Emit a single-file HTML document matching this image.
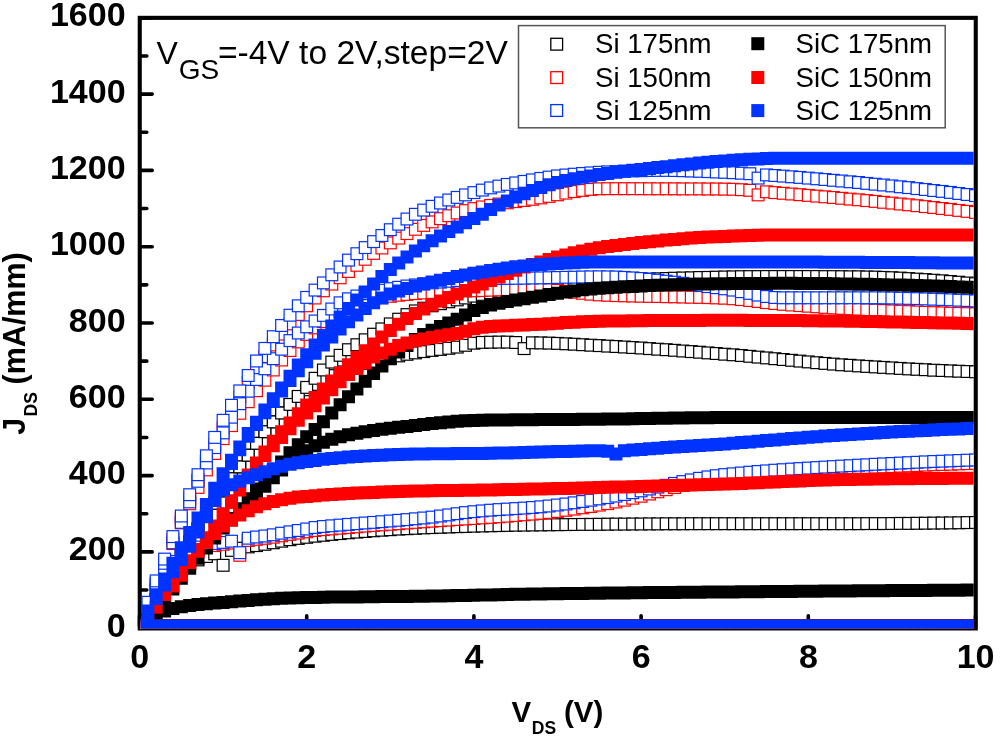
<!DOCTYPE html>
<html><head><meta charset="utf-8"><style>
html,body{margin:0;padding:0;background:#fff;}
svg{display:block;}
text{font-family:"Liberation Sans",Arial,sans-serif;}
</style></head><body>
<svg width="1000" height="738" viewBox="0 0 1000 738">
<defs><clipPath id="pc"><rect x="140.6" y="19.9" width="833.1" height="608.7"/></clipPath></defs>
<rect width="1000" height="738" fill="#fff"/>
<path d="M141.8 628.20h10.4M141.8 590.05h5M141.8 551.90h10.4M141.8 513.75h5M141.8 475.60h10.4M141.8 437.45h5M141.8 399.30h10.4M141.8 361.15h5M141.8 323.00h10.4M141.8 284.85h5M141.8 246.70h10.4M141.8 208.55h5M141.8 170.40h10.4M141.8 132.25h5M141.8 94.10h10.4M141.8 55.95h5M141.8 17.80h10.4M139.50 626.4v-10.6M223.10 626.4v-5M306.70 626.4v-10.6M390.30 626.4v-5M473.90 626.4v-10.6M557.50 626.4v-5M641.10 626.4v-10.6M724.70 626.4v-5M808.30 626.4v-10.6M891.90 626.4v-5M975.50 626.4v-10.6" stroke="#000" stroke-width="3.6" stroke-linecap="round" fill="none"/>
<rect x="139.75" y="17.85" width="836" height="610.6" fill="none" stroke="#000" stroke-width="4.1"/>
<g clip-path="url(#pc)">
<g fill="#fff" stroke="#000000" stroke-width="1.2"><rect x="133.6" y="620.0" width="11.8" height="11.8"/><rect x="142.0" y="620.0" width="11.8" height="11.8"/><rect x="150.3" y="620.0" width="11.8" height="11.8"/><rect x="158.7" y="620.0" width="11.8" height="11.8"/><rect x="167.0" y="620.0" width="11.8" height="11.8"/><rect x="175.4" y="620.0" width="11.8" height="11.8"/><rect x="183.8" y="620.0" width="11.8" height="11.8"/><rect x="192.1" y="620.0" width="11.8" height="11.8"/><rect x="200.5" y="620.0" width="11.8" height="11.8"/><rect x="208.8" y="620.0" width="11.8" height="11.8"/><rect x="217.2" y="620.0" width="11.8" height="11.8"/><rect x="225.6" y="620.0" width="11.8" height="11.8"/><rect x="233.9" y="620.0" width="11.8" height="11.8"/><rect x="242.3" y="620.0" width="11.8" height="11.8"/><rect x="250.6" y="620.0" width="11.8" height="11.8"/><rect x="259.0" y="620.0" width="11.8" height="11.8"/><rect x="267.4" y="620.0" width="11.8" height="11.8"/><rect x="275.7" y="620.0" width="11.8" height="11.8"/><rect x="284.1" y="620.0" width="11.8" height="11.8"/><rect x="292.4" y="620.0" width="11.8" height="11.8"/><rect x="300.8" y="620.0" width="11.8" height="11.8"/><rect x="309.2" y="620.0" width="11.8" height="11.8"/><rect x="317.5" y="620.0" width="11.8" height="11.8"/><rect x="325.9" y="620.0" width="11.8" height="11.8"/><rect x="334.2" y="620.0" width="11.8" height="11.8"/><rect x="342.6" y="620.0" width="11.8" height="11.8"/><rect x="351.0" y="620.0" width="11.8" height="11.8"/><rect x="359.3" y="620.0" width="11.8" height="11.8"/><rect x="367.7" y="620.0" width="11.8" height="11.8"/><rect x="376.0" y="620.0" width="11.8" height="11.8"/><rect x="384.4" y="620.0" width="11.8" height="11.8"/><rect x="392.8" y="620.0" width="11.8" height="11.8"/><rect x="401.1" y="620.0" width="11.8" height="11.8"/><rect x="409.5" y="620.0" width="11.8" height="11.8"/><rect x="417.8" y="620.0" width="11.8" height="11.8"/><rect x="426.2" y="620.0" width="11.8" height="11.8"/><rect x="434.6" y="620.0" width="11.8" height="11.8"/><rect x="442.9" y="620.0" width="11.8" height="11.8"/><rect x="451.3" y="620.0" width="11.8" height="11.8"/><rect x="459.6" y="620.0" width="11.8" height="11.8"/><rect x="468.0" y="620.0" width="11.8" height="11.8"/><rect x="476.4" y="620.0" width="11.8" height="11.8"/><rect x="484.7" y="620.0" width="11.8" height="11.8"/><rect x="493.1" y="620.0" width="11.8" height="11.8"/><rect x="501.4" y="620.0" width="11.8" height="11.8"/><rect x="509.8" y="620.0" width="11.8" height="11.8"/><rect x="518.2" y="620.0" width="11.8" height="11.8"/><rect x="526.5" y="620.0" width="11.8" height="11.8"/><rect x="534.9" y="620.0" width="11.8" height="11.8"/><rect x="543.2" y="620.0" width="11.8" height="11.8"/><rect x="551.6" y="620.0" width="11.8" height="11.8"/><rect x="560.0" y="620.0" width="11.8" height="11.8"/><rect x="568.3" y="620.0" width="11.8" height="11.8"/><rect x="576.7" y="620.0" width="11.8" height="11.8"/><rect x="585.0" y="620.0" width="11.8" height="11.8"/><rect x="593.4" y="620.0" width="11.8" height="11.8"/><rect x="601.8" y="620.0" width="11.8" height="11.8"/><rect x="610.1" y="620.0" width="11.8" height="11.8"/><rect x="618.5" y="620.0" width="11.8" height="11.8"/><rect x="626.8" y="620.0" width="11.8" height="11.8"/><rect x="635.2" y="620.0" width="11.8" height="11.8"/><rect x="643.6" y="620.0" width="11.8" height="11.8"/><rect x="651.9" y="620.0" width="11.8" height="11.8"/><rect x="660.3" y="620.0" width="11.8" height="11.8"/><rect x="668.6" y="620.0" width="11.8" height="11.8"/><rect x="677.0" y="620.0" width="11.8" height="11.8"/><rect x="685.4" y="620.0" width="11.8" height="11.8"/><rect x="693.7" y="620.0" width="11.8" height="11.8"/><rect x="702.1" y="620.0" width="11.8" height="11.8"/><rect x="710.4" y="620.0" width="11.8" height="11.8"/><rect x="718.8" y="620.0" width="11.8" height="11.8"/><rect x="727.2" y="620.0" width="11.8" height="11.8"/><rect x="735.5" y="620.0" width="11.8" height="11.8"/><rect x="743.9" y="620.0" width="11.8" height="11.8"/><rect x="752.2" y="620.0" width="11.8" height="11.8"/><rect x="760.6" y="620.0" width="11.8" height="11.8"/><rect x="769.0" y="620.0" width="11.8" height="11.8"/><rect x="777.3" y="620.0" width="11.8" height="11.8"/><rect x="785.7" y="620.0" width="11.8" height="11.8"/><rect x="794.0" y="620.0" width="11.8" height="11.8"/><rect x="802.4" y="620.0" width="11.8" height="11.8"/><rect x="810.8" y="620.0" width="11.8" height="11.8"/><rect x="819.1" y="620.0" width="11.8" height="11.8"/><rect x="827.5" y="620.0" width="11.8" height="11.8"/><rect x="835.8" y="620.0" width="11.8" height="11.8"/><rect x="844.2" y="620.0" width="11.8" height="11.8"/><rect x="852.6" y="620.0" width="11.8" height="11.8"/><rect x="860.9" y="620.0" width="11.8" height="11.8"/><rect x="869.3" y="620.0" width="11.8" height="11.8"/><rect x="877.6" y="620.0" width="11.8" height="11.8"/><rect x="886.0" y="620.0" width="11.8" height="11.8"/><rect x="894.4" y="620.0" width="11.8" height="11.8"/><rect x="902.7" y="620.0" width="11.8" height="11.8"/><rect x="911.1" y="620.0" width="11.8" height="11.8"/><rect x="919.4" y="620.0" width="11.8" height="11.8"/><rect x="927.8" y="620.0" width="11.8" height="11.8"/><rect x="936.2" y="620.0" width="11.8" height="11.8"/><rect x="944.5" y="620.0" width="11.8" height="11.8"/><rect x="952.9" y="620.0" width="11.8" height="11.8"/><rect x="961.2" y="620.0" width="11.8" height="11.8"/><rect x="969.6" y="620.0" width="11.8" height="11.8"/><rect x="133.6" y="622.3" width="11.8" height="11.8"/><rect x="142.0" y="607.2" width="11.8" height="11.8"/><rect x="150.3" y="593.7" width="11.8" height="11.8"/><rect x="158.7" y="581.1" width="11.8" height="11.8"/><rect x="167.0" y="570.8" width="11.8" height="11.8"/><rect x="175.4" y="563.7" width="11.8" height="11.8"/><rect x="183.8" y="558.2" width="11.8" height="11.8"/><rect x="192.1" y="554.0" width="11.8" height="11.8"/><rect x="200.5" y="550.6" width="11.8" height="11.8"/><rect x="208.8" y="547.9" width="11.8" height="11.8"/><rect x="217.2" y="559.4" width="11.8" height="11.8"/><rect x="225.6" y="544.5" width="11.8" height="11.8"/><rect x="233.9" y="542.3" width="11.8" height="11.8"/><rect x="242.3" y="541.0" width="11.8" height="11.8"/><rect x="250.6" y="539.7" width="11.8" height="11.8"/><rect x="259.0" y="538.4" width="11.8" height="11.8"/><rect x="267.4" y="536.9" width="11.8" height="11.8"/><rect x="275.7" y="535.3" width="11.8" height="11.8"/><rect x="284.1" y="533.8" width="11.8" height="11.8"/><rect x="292.4" y="532.5" width="11.8" height="11.8"/><rect x="300.8" y="531.4" width="11.8" height="11.8"/><rect x="309.2" y="530.3" width="11.8" height="11.8"/><rect x="317.5" y="529.4" width="11.8" height="11.8"/><rect x="325.9" y="528.5" width="11.8" height="11.8"/><rect x="334.2" y="527.7" width="11.8" height="11.8"/><rect x="342.6" y="526.9" width="11.8" height="11.8"/><rect x="351.0" y="526.2" width="11.8" height="11.8"/><rect x="359.3" y="525.6" width="11.8" height="11.8"/><rect x="367.7" y="524.9" width="11.8" height="11.8"/><rect x="376.0" y="524.3" width="11.8" height="11.8"/><rect x="384.4" y="523.8" width="11.8" height="11.8"/><rect x="392.8" y="523.2" width="11.8" height="11.8"/><rect x="401.1" y="522.8" width="11.8" height="11.8"/><rect x="409.5" y="522.4" width="11.8" height="11.8"/><rect x="417.8" y="522.0" width="11.8" height="11.8"/><rect x="426.2" y="521.7" width="11.8" height="11.8"/><rect x="434.6" y="521.4" width="11.8" height="11.8"/><rect x="442.9" y="521.1" width="11.8" height="11.8"/><rect x="451.3" y="520.8" width="11.8" height="11.8"/><rect x="459.6" y="520.6" width="11.8" height="11.8"/><rect x="468.0" y="520.3" width="11.8" height="11.8"/><rect x="476.4" y="520.1" width="11.8" height="11.8"/><rect x="484.7" y="519.9" width="11.8" height="11.8"/><rect x="493.1" y="519.7" width="11.8" height="11.8"/><rect x="501.4" y="519.5" width="11.8" height="11.8"/><rect x="509.8" y="519.3" width="11.8" height="11.8"/><rect x="518.2" y="519.2" width="11.8" height="11.8"/><rect x="526.5" y="519.1" width="11.8" height="11.8"/><rect x="534.9" y="519.0" width="11.8" height="11.8"/><rect x="543.2" y="518.9" width="11.8" height="11.8"/><rect x="551.6" y="518.8" width="11.8" height="11.8"/><rect x="560.0" y="518.7" width="11.8" height="11.8"/><rect x="568.3" y="518.6" width="11.8" height="11.8"/><rect x="576.7" y="518.5" width="11.8" height="11.8"/><rect x="585.0" y="518.5" width="11.8" height="11.8"/><rect x="593.4" y="518.4" width="11.8" height="11.8"/><rect x="601.8" y="518.3" width="11.8" height="11.8"/><rect x="610.1" y="518.2" width="11.8" height="11.8"/><rect x="618.5" y="518.2" width="11.8" height="11.8"/><rect x="626.8" y="518.1" width="11.8" height="11.8"/><rect x="635.2" y="518.1" width="11.8" height="11.8"/><rect x="643.6" y="518.0" width="11.8" height="11.8"/><rect x="651.9" y="518.0" width="11.8" height="11.8"/><rect x="660.3" y="517.9" width="11.8" height="11.8"/><rect x="668.6" y="517.9" width="11.8" height="11.8"/><rect x="677.0" y="517.9" width="11.8" height="11.8"/><rect x="685.4" y="517.8" width="11.8" height="11.8"/><rect x="693.7" y="517.8" width="11.8" height="11.8"/><rect x="702.1" y="517.8" width="11.8" height="11.8"/><rect x="710.4" y="517.8" width="11.8" height="11.8"/><rect x="718.8" y="517.8" width="11.8" height="11.8"/><rect x="727.2" y="517.8" width="11.8" height="11.8"/><rect x="735.5" y="517.8" width="11.8" height="11.8"/><rect x="743.9" y="517.8" width="11.8" height="11.8"/><rect x="752.2" y="517.8" width="11.8" height="11.8"/><rect x="760.6" y="517.8" width="11.8" height="11.8"/><rect x="769.0" y="517.8" width="11.8" height="11.8"/><rect x="777.3" y="517.8" width="11.8" height="11.8"/><rect x="785.7" y="517.8" width="11.8" height="11.8"/><rect x="794.0" y="517.8" width="11.8" height="11.8"/><rect x="802.4" y="517.8" width="11.8" height="11.8"/><rect x="810.8" y="517.8" width="11.8" height="11.8"/><rect x="819.1" y="517.8" width="11.8" height="11.8"/><rect x="827.5" y="517.8" width="11.8" height="11.8"/><rect x="835.8" y="517.8" width="11.8" height="11.8"/><rect x="844.2" y="517.8" width="11.8" height="11.8"/><rect x="852.6" y="517.8" width="11.8" height="11.8"/><rect x="860.9" y="517.7" width="11.8" height="11.8"/><rect x="869.3" y="517.7" width="11.8" height="11.8"/><rect x="877.6" y="517.7" width="11.8" height="11.8"/><rect x="886.0" y="517.6" width="11.8" height="11.8"/><rect x="894.4" y="517.5" width="11.8" height="11.8"/><rect x="902.7" y="517.5" width="11.8" height="11.8"/><rect x="911.1" y="517.4" width="11.8" height="11.8"/><rect x="919.4" y="517.3" width="11.8" height="11.8"/><rect x="927.8" y="517.2" width="11.8" height="11.8"/><rect x="936.2" y="517.1" width="11.8" height="11.8"/><rect x="944.5" y="517.0" width="11.8" height="11.8"/><rect x="952.9" y="516.9" width="11.8" height="11.8"/><rect x="961.2" y="516.7" width="11.8" height="11.8"/><rect x="969.6" y="516.6" width="11.8" height="11.8"/><rect x="133.6" y="622.3" width="11.8" height="11.8"/><rect x="142.0" y="608.1" width="11.8" height="11.8"/><rect x="150.3" y="593.7" width="11.8" height="11.8"/><rect x="158.7" y="579.0" width="11.8" height="11.8"/><rect x="167.0" y="564.1" width="11.8" height="11.8"/><rect x="175.4" y="549.8" width="11.8" height="11.8"/><rect x="183.8" y="536.2" width="11.8" height="11.8"/><rect x="192.1" y="523.0" width="11.8" height="11.8"/><rect x="200.5" y="510.1" width="11.8" height="11.8"/><rect x="208.8" y="497.4" width="11.8" height="11.8"/><rect x="217.2" y="485.0" width="11.8" height="11.8"/><rect x="225.6" y="472.8" width="11.8" height="11.8"/><rect x="233.9" y="461.0" width="11.8" height="11.8"/><rect x="242.3" y="449.3" width="11.8" height="11.8"/><rect x="250.6" y="437.4" width="11.8" height="11.8"/><rect x="259.0" y="425.8" width="11.8" height="11.8"/><rect x="267.4" y="415.9" width="11.8" height="11.8"/><rect x="275.7" y="406.9" width="11.8" height="11.8"/><rect x="284.1" y="398.6" width="11.8" height="11.8"/><rect x="292.4" y="390.6" width="11.8" height="11.8"/><rect x="300.8" y="383.9" width="11.8" height="11.8"/><rect x="309.2" y="378.5" width="11.8" height="11.8"/><rect x="317.5" y="373.8" width="11.8" height="11.8"/><rect x="325.9" y="369.7" width="11.8" height="11.8"/><rect x="334.2" y="366.0" width="11.8" height="11.8"/><rect x="342.6" y="362.7" width="11.8" height="11.8"/><rect x="351.0" y="359.8" width="11.8" height="11.8"/><rect x="359.3" y="357.4" width="11.8" height="11.8"/><rect x="367.7" y="355.3" width="11.8" height="11.8"/><rect x="376.0" y="353.4" width="11.8" height="11.8"/><rect x="384.4" y="351.6" width="11.8" height="11.8"/><rect x="392.8" y="350.0" width="11.8" height="11.8"/><rect x="401.1" y="348.4" width="11.8" height="11.8"/><rect x="409.5" y="347.0" width="11.8" height="11.8"/><rect x="417.8" y="345.7" width="11.8" height="11.8"/><rect x="426.2" y="344.5" width="11.8" height="11.8"/><rect x="434.6" y="343.5" width="11.8" height="11.8"/><rect x="442.9" y="342.4" width="11.8" height="11.8"/><rect x="451.3" y="341.2" width="11.8" height="11.8"/><rect x="459.6" y="339.4" width="11.8" height="11.8"/><rect x="468.0" y="337.3" width="11.8" height="11.8"/><rect x="476.4" y="336.5" width="11.8" height="11.8"/><rect x="484.7" y="336.3" width="11.8" height="11.8"/><rect x="493.1" y="336.2" width="11.8" height="11.8"/><rect x="501.4" y="336.2" width="11.8" height="11.8"/><rect x="509.8" y="336.6" width="11.8" height="11.8"/><rect x="518.2" y="342.7" width="11.8" height="11.8"/><rect x="526.5" y="336.9" width="11.8" height="11.8"/><rect x="534.9" y="337.0" width="11.8" height="11.8"/><rect x="543.2" y="337.2" width="11.8" height="11.8"/><rect x="551.6" y="337.5" width="11.8" height="11.8"/><rect x="560.0" y="337.9" width="11.8" height="11.8"/><rect x="568.3" y="338.3" width="11.8" height="11.8"/><rect x="576.7" y="338.8" width="11.8" height="11.8"/><rect x="585.0" y="339.3" width="11.8" height="11.8"/><rect x="593.4" y="339.7" width="11.8" height="11.8"/><rect x="601.8" y="340.2" width="11.8" height="11.8"/><rect x="610.1" y="340.6" width="11.8" height="11.8"/><rect x="618.5" y="341.1" width="11.8" height="11.8"/><rect x="626.8" y="341.6" width="11.8" height="11.8"/><rect x="635.2" y="342.1" width="11.8" height="11.8"/><rect x="643.6" y="342.7" width="11.8" height="11.8"/><rect x="651.9" y="343.3" width="11.8" height="11.8"/><rect x="660.3" y="343.8" width="11.8" height="11.8"/><rect x="668.6" y="344.4" width="11.8" height="11.8"/><rect x="677.0" y="345.1" width="11.8" height="11.8"/><rect x="685.4" y="345.7" width="11.8" height="11.8"/><rect x="693.7" y="346.3" width="11.8" height="11.8"/><rect x="702.1" y="347.0" width="11.8" height="11.8"/><rect x="710.4" y="347.6" width="11.8" height="11.8"/><rect x="718.8" y="348.3" width="11.8" height="11.8"/><rect x="727.2" y="348.9" width="11.8" height="11.8"/><rect x="735.5" y="349.6" width="11.8" height="11.8"/><rect x="743.9" y="350.4" width="11.8" height="11.8"/><rect x="752.2" y="351.2" width="11.8" height="11.8"/><rect x="760.6" y="352.0" width="11.8" height="11.8"/><rect x="769.0" y="352.8" width="11.8" height="11.8"/><rect x="777.3" y="353.6" width="11.8" height="11.8"/><rect x="785.7" y="354.4" width="11.8" height="11.8"/><rect x="794.0" y="355.2" width="11.8" height="11.8"/><rect x="802.4" y="356.0" width="11.8" height="11.8"/><rect x="810.8" y="356.8" width="11.8" height="11.8"/><rect x="819.1" y="357.5" width="11.8" height="11.8"/><rect x="827.5" y="358.2" width="11.8" height="11.8"/><rect x="835.8" y="358.9" width="11.8" height="11.8"/><rect x="844.2" y="359.4" width="11.8" height="11.8"/><rect x="852.6" y="360.0" width="11.8" height="11.8"/><rect x="860.9" y="360.5" width="11.8" height="11.8"/><rect x="869.3" y="361.0" width="11.8" height="11.8"/><rect x="877.6" y="361.5" width="11.8" height="11.8"/><rect x="886.0" y="362.0" width="11.8" height="11.8"/><rect x="894.4" y="362.5" width="11.8" height="11.8"/><rect x="902.7" y="363.0" width="11.8" height="11.8"/><rect x="911.1" y="363.4" width="11.8" height="11.8"/><rect x="919.4" y="363.8" width="11.8" height="11.8"/><rect x="927.8" y="364.3" width="11.8" height="11.8"/><rect x="936.2" y="364.6" width="11.8" height="11.8"/><rect x="944.5" y="365.0" width="11.8" height="11.8"/><rect x="952.9" y="365.3" width="11.8" height="11.8"/><rect x="961.2" y="365.6" width="11.8" height="11.8"/><rect x="969.6" y="365.9" width="11.8" height="11.8"/><rect x="133.6" y="622.3" width="11.8" height="11.8"/><rect x="142.0" y="608.1" width="11.8" height="11.8"/><rect x="150.3" y="593.7" width="11.8" height="11.8"/><rect x="158.7" y="579.0" width="11.8" height="11.8"/><rect x="167.0" y="564.1" width="11.8" height="11.8"/><rect x="175.4" y="549.8" width="11.8" height="11.8"/><rect x="183.8" y="536.2" width="11.8" height="11.8"/><rect x="192.1" y="523.0" width="11.8" height="11.8"/><rect x="200.5" y="510.1" width="11.8" height="11.8"/><rect x="208.8" y="497.4" width="11.8" height="11.8"/><rect x="217.2" y="485.0" width="11.8" height="11.8"/><rect x="225.6" y="472.8" width="11.8" height="11.8"/><rect x="233.9" y="461.0" width="11.8" height="11.8"/><rect x="242.3" y="449.3" width="11.8" height="11.8"/><rect x="250.6" y="437.4" width="11.8" height="11.8"/><rect x="259.0" y="425.8" width="11.8" height="11.8"/><rect x="267.4" y="416.0" width="11.8" height="11.8"/><rect x="275.7" y="407.1" width="11.8" height="11.8"/><rect x="284.1" y="398.5" width="11.8" height="11.8"/><rect x="292.4" y="390.5" width="11.8" height="11.8"/><rect x="300.8" y="381.5" width="11.8" height="11.8"/><rect x="309.2" y="372.4" width="11.8" height="11.8"/><rect x="317.5" y="364.1" width="11.8" height="11.8"/><rect x="325.9" y="356.2" width="11.8" height="11.8"/><rect x="334.2" y="349.4" width="11.8" height="11.8"/><rect x="342.6" y="343.8" width="11.8" height="11.8"/><rect x="351.0" y="338.8" width="11.8" height="11.8"/><rect x="359.3" y="333.9" width="11.8" height="11.8"/><rect x="367.7" y="328.3" width="11.8" height="11.8"/><rect x="376.0" y="323.0" width="11.8" height="11.8"/><rect x="384.4" y="318.0" width="11.8" height="11.8"/><rect x="392.8" y="313.3" width="11.8" height="11.8"/><rect x="401.1" y="308.7" width="11.8" height="11.8"/><rect x="409.5" y="305.0" width="11.8" height="11.8"/><rect x="417.8" y="302.3" width="11.8" height="11.8"/><rect x="426.2" y="299.9" width="11.8" height="11.8"/><rect x="434.6" y="297.8" width="11.8" height="11.8"/><rect x="442.9" y="295.9" width="11.8" height="11.8"/><rect x="451.3" y="294.0" width="11.8" height="11.8"/><rect x="459.6" y="292.1" width="11.8" height="11.8"/><rect x="468.0" y="290.3" width="11.8" height="11.8"/><rect x="476.4" y="288.5" width="11.8" height="11.8"/><rect x="484.7" y="286.9" width="11.8" height="11.8"/><rect x="493.1" y="285.6" width="11.8" height="11.8"/><rect x="501.4" y="284.4" width="11.8" height="11.8"/><rect x="509.8" y="283.2" width="11.8" height="11.8"/><rect x="518.2" y="282.1" width="11.8" height="11.8"/><rect x="526.5" y="281.0" width="11.8" height="11.8"/><rect x="534.9" y="280.0" width="11.8" height="11.8"/><rect x="543.2" y="279.1" width="11.8" height="11.8"/><rect x="551.6" y="278.2" width="11.8" height="11.8"/><rect x="560.0" y="277.4" width="11.8" height="11.8"/><rect x="568.3" y="276.7" width="11.8" height="11.8"/><rect x="576.7" y="276.1" width="11.8" height="11.8"/><rect x="585.0" y="275.5" width="11.8" height="11.8"/><rect x="593.4" y="275.1" width="11.8" height="11.8"/><rect x="601.8" y="274.8" width="11.8" height="11.8"/><rect x="610.1" y="274.4" width="11.8" height="11.8"/><rect x="618.5" y="274.1" width="11.8" height="11.8"/><rect x="626.8" y="273.8" width="11.8" height="11.8"/><rect x="635.2" y="273.5" width="11.8" height="11.8"/><rect x="643.6" y="273.2" width="11.8" height="11.8"/><rect x="651.9" y="272.9" width="11.8" height="11.8"/><rect x="660.3" y="272.6" width="11.8" height="11.8"/><rect x="668.6" y="272.3" width="11.8" height="11.8"/><rect x="677.0" y="272.1" width="11.8" height="11.8"/><rect x="685.4" y="271.9" width="11.8" height="11.8"/><rect x="693.7" y="271.6" width="11.8" height="11.8"/><rect x="702.1" y="271.5" width="11.8" height="11.8"/><rect x="710.4" y="271.3" width="11.8" height="11.8"/><rect x="718.8" y="271.1" width="11.8" height="11.8"/><rect x="727.2" y="271.0" width="11.8" height="11.8"/><rect x="735.5" y="270.8" width="11.8" height="11.8"/><rect x="743.9" y="270.7" width="11.8" height="11.8"/><rect x="752.2" y="270.7" width="11.8" height="11.8"/><rect x="760.6" y="270.6" width="11.8" height="11.8"/><rect x="769.0" y="270.6" width="11.8" height="11.8"/><rect x="777.3" y="270.6" width="11.8" height="11.8"/><rect x="785.7" y="270.6" width="11.8" height="11.8"/><rect x="794.0" y="270.6" width="11.8" height="11.8"/><rect x="802.4" y="270.6" width="11.8" height="11.8"/><rect x="810.8" y="270.6" width="11.8" height="11.8"/><rect x="819.1" y="270.7" width="11.8" height="11.8"/><rect x="827.5" y="270.7" width="11.8" height="11.8"/><rect x="835.8" y="270.8" width="11.8" height="11.8"/><rect x="844.2" y="270.9" width="11.8" height="11.8"/><rect x="852.6" y="270.9" width="11.8" height="11.8"/><rect x="860.9" y="271.1" width="11.8" height="11.8"/><rect x="869.3" y="271.2" width="11.8" height="11.8"/><rect x="877.6" y="271.5" width="11.8" height="11.8"/><rect x="886.0" y="271.8" width="11.8" height="11.8"/><rect x="894.4" y="272.2" width="11.8" height="11.8"/><rect x="902.7" y="272.7" width="11.8" height="11.8"/><rect x="911.1" y="273.2" width="11.8" height="11.8"/><rect x="919.4" y="273.7" width="11.8" height="11.8"/><rect x="927.8" y="274.3" width="11.8" height="11.8"/><rect x="936.2" y="274.9" width="11.8" height="11.8"/><rect x="944.5" y="275.6" width="11.8" height="11.8"/><rect x="952.9" y="276.3" width="11.8" height="11.8"/><rect x="961.2" y="277.1" width="11.8" height="11.8"/><rect x="969.6" y="277.8" width="11.8" height="11.8"/></g>
<g fill="#fff" stroke="#ff0000" stroke-width="1.2"><rect x="133.6" y="620.0" width="11.8" height="11.8"/><rect x="142.0" y="620.0" width="11.8" height="11.8"/><rect x="150.3" y="620.0" width="11.8" height="11.8"/><rect x="158.7" y="620.0" width="11.8" height="11.8"/><rect x="167.0" y="620.0" width="11.8" height="11.8"/><rect x="175.4" y="620.0" width="11.8" height="11.8"/><rect x="183.8" y="620.0" width="11.8" height="11.8"/><rect x="192.1" y="620.0" width="11.8" height="11.8"/><rect x="200.5" y="620.0" width="11.8" height="11.8"/><rect x="208.8" y="620.0" width="11.8" height="11.8"/><rect x="217.2" y="620.0" width="11.8" height="11.8"/><rect x="225.6" y="620.0" width="11.8" height="11.8"/><rect x="233.9" y="620.0" width="11.8" height="11.8"/><rect x="242.3" y="620.0" width="11.8" height="11.8"/><rect x="250.6" y="620.0" width="11.8" height="11.8"/><rect x="259.0" y="620.0" width="11.8" height="11.8"/><rect x="267.4" y="620.0" width="11.8" height="11.8"/><rect x="275.7" y="620.0" width="11.8" height="11.8"/><rect x="284.1" y="620.0" width="11.8" height="11.8"/><rect x="292.4" y="620.0" width="11.8" height="11.8"/><rect x="300.8" y="620.0" width="11.8" height="11.8"/><rect x="309.2" y="620.0" width="11.8" height="11.8"/><rect x="317.5" y="620.0" width="11.8" height="11.8"/><rect x="325.9" y="620.0" width="11.8" height="11.8"/><rect x="334.2" y="620.0" width="11.8" height="11.8"/><rect x="342.6" y="620.0" width="11.8" height="11.8"/><rect x="351.0" y="620.0" width="11.8" height="11.8"/><rect x="359.3" y="620.0" width="11.8" height="11.8"/><rect x="367.7" y="620.0" width="11.8" height="11.8"/><rect x="376.0" y="620.0" width="11.8" height="11.8"/><rect x="384.4" y="620.0" width="11.8" height="11.8"/><rect x="392.8" y="620.0" width="11.8" height="11.8"/><rect x="401.1" y="620.0" width="11.8" height="11.8"/><rect x="409.5" y="620.0" width="11.8" height="11.8"/><rect x="417.8" y="620.0" width="11.8" height="11.8"/><rect x="426.2" y="620.0" width="11.8" height="11.8"/><rect x="434.6" y="620.0" width="11.8" height="11.8"/><rect x="442.9" y="620.0" width="11.8" height="11.8"/><rect x="451.3" y="620.0" width="11.8" height="11.8"/><rect x="459.6" y="620.0" width="11.8" height="11.8"/><rect x="468.0" y="620.0" width="11.8" height="11.8"/><rect x="476.4" y="620.0" width="11.8" height="11.8"/><rect x="484.7" y="620.0" width="11.8" height="11.8"/><rect x="493.1" y="620.0" width="11.8" height="11.8"/><rect x="501.4" y="620.0" width="11.8" height="11.8"/><rect x="509.8" y="620.0" width="11.8" height="11.8"/><rect x="518.2" y="620.0" width="11.8" height="11.8"/><rect x="526.5" y="620.0" width="11.8" height="11.8"/><rect x="534.9" y="620.0" width="11.8" height="11.8"/><rect x="543.2" y="620.0" width="11.8" height="11.8"/><rect x="551.6" y="620.0" width="11.8" height="11.8"/><rect x="560.0" y="620.0" width="11.8" height="11.8"/><rect x="568.3" y="620.0" width="11.8" height="11.8"/><rect x="576.7" y="620.0" width="11.8" height="11.8"/><rect x="585.0" y="620.0" width="11.8" height="11.8"/><rect x="593.4" y="620.0" width="11.8" height="11.8"/><rect x="601.8" y="620.0" width="11.8" height="11.8"/><rect x="610.1" y="620.0" width="11.8" height="11.8"/><rect x="618.5" y="620.0" width="11.8" height="11.8"/><rect x="626.8" y="620.0" width="11.8" height="11.8"/><rect x="635.2" y="620.0" width="11.8" height="11.8"/><rect x="643.6" y="620.0" width="11.8" height="11.8"/><rect x="651.9" y="620.0" width="11.8" height="11.8"/><rect x="660.3" y="620.0" width="11.8" height="11.8"/><rect x="668.6" y="620.0" width="11.8" height="11.8"/><rect x="677.0" y="620.0" width="11.8" height="11.8"/><rect x="685.4" y="620.0" width="11.8" height="11.8"/><rect x="693.7" y="620.0" width="11.8" height="11.8"/><rect x="702.1" y="620.0" width="11.8" height="11.8"/><rect x="710.4" y="620.0" width="11.8" height="11.8"/><rect x="718.8" y="620.0" width="11.8" height="11.8"/><rect x="727.2" y="620.0" width="11.8" height="11.8"/><rect x="735.5" y="620.0" width="11.8" height="11.8"/><rect x="743.9" y="620.0" width="11.8" height="11.8"/><rect x="752.2" y="620.0" width="11.8" height="11.8"/><rect x="760.6" y="620.0" width="11.8" height="11.8"/><rect x="769.0" y="620.0" width="11.8" height="11.8"/><rect x="777.3" y="620.0" width="11.8" height="11.8"/><rect x="785.7" y="620.0" width="11.8" height="11.8"/><rect x="794.0" y="620.0" width="11.8" height="11.8"/><rect x="802.4" y="620.0" width="11.8" height="11.8"/><rect x="810.8" y="620.0" width="11.8" height="11.8"/><rect x="819.1" y="620.0" width="11.8" height="11.8"/><rect x="827.5" y="620.0" width="11.8" height="11.8"/><rect x="835.8" y="620.0" width="11.8" height="11.8"/><rect x="844.2" y="620.0" width="11.8" height="11.8"/><rect x="852.6" y="620.0" width="11.8" height="11.8"/><rect x="860.9" y="620.0" width="11.8" height="11.8"/><rect x="869.3" y="620.0" width="11.8" height="11.8"/><rect x="877.6" y="620.0" width="11.8" height="11.8"/><rect x="886.0" y="620.0" width="11.8" height="11.8"/><rect x="894.4" y="620.0" width="11.8" height="11.8"/><rect x="902.7" y="620.0" width="11.8" height="11.8"/><rect x="911.1" y="620.0" width="11.8" height="11.8"/><rect x="919.4" y="620.0" width="11.8" height="11.8"/><rect x="927.8" y="620.0" width="11.8" height="11.8"/><rect x="936.2" y="620.0" width="11.8" height="11.8"/><rect x="944.5" y="620.0" width="11.8" height="11.8"/><rect x="952.9" y="620.0" width="11.8" height="11.8"/><rect x="961.2" y="620.0" width="11.8" height="11.8"/><rect x="969.6" y="620.0" width="11.8" height="11.8"/><rect x="133.6" y="622.3" width="11.8" height="11.8"/><rect x="142.0" y="601.4" width="11.8" height="11.8"/><rect x="150.3" y="584.2" width="11.8" height="11.8"/><rect x="158.7" y="570.1" width="11.8" height="11.8"/><rect x="167.0" y="559.4" width="11.8" height="11.8"/><rect x="175.4" y="551.9" width="11.8" height="11.8"/><rect x="183.8" y="546.8" width="11.8" height="11.8"/><rect x="192.1" y="543.6" width="11.8" height="11.8"/><rect x="200.5" y="541.4" width="11.8" height="11.8"/><rect x="208.8" y="539.7" width="11.8" height="11.8"/><rect x="217.2" y="538.4" width="11.8" height="11.8"/><rect x="225.6" y="537.2" width="11.8" height="11.8"/><rect x="233.9" y="549.4" width="11.8" height="11.8"/><rect x="242.3" y="534.6" width="11.8" height="11.8"/><rect x="250.6" y="533.4" width="11.8" height="11.8"/><rect x="259.0" y="532.4" width="11.8" height="11.8"/><rect x="267.4" y="531.3" width="11.8" height="11.8"/><rect x="275.7" y="529.9" width="11.8" height="11.8"/><rect x="284.1" y="528.5" width="11.8" height="11.8"/><rect x="292.4" y="527.2" width="11.8" height="11.8"/><rect x="300.8" y="525.9" width="11.8" height="11.8"/><rect x="309.2" y="524.6" width="11.8" height="11.8"/><rect x="317.5" y="523.7" width="11.8" height="11.8"/><rect x="325.9" y="523.0" width="11.8" height="11.8"/><rect x="334.2" y="522.3" width="11.8" height="11.8"/><rect x="342.6" y="521.6" width="11.8" height="11.8"/><rect x="351.0" y="520.9" width="11.8" height="11.8"/><rect x="359.3" y="520.2" width="11.8" height="11.8"/><rect x="367.7" y="519.6" width="11.8" height="11.8"/><rect x="376.0" y="519.0" width="11.8" height="11.8"/><rect x="384.4" y="518.4" width="11.8" height="11.8"/><rect x="392.8" y="517.8" width="11.8" height="11.8"/><rect x="401.1" y="517.1" width="11.8" height="11.8"/><rect x="409.5" y="516.5" width="11.8" height="11.8"/><rect x="417.8" y="515.9" width="11.8" height="11.8"/><rect x="426.2" y="515.3" width="11.8" height="11.8"/><rect x="434.6" y="514.7" width="11.8" height="11.8"/><rect x="442.9" y="514.2" width="11.8" height="11.8"/><rect x="451.3" y="513.6" width="11.8" height="11.8"/><rect x="459.6" y="513.1" width="11.8" height="11.8"/><rect x="468.0" y="512.6" width="11.8" height="11.8"/><rect x="476.4" y="512.0" width="11.8" height="11.8"/><rect x="484.7" y="511.5" width="11.8" height="11.8"/><rect x="493.1" y="510.9" width="11.8" height="11.8"/><rect x="501.4" y="510.3" width="11.8" height="11.8"/><rect x="509.8" y="509.6" width="11.8" height="11.8"/><rect x="518.2" y="508.9" width="11.8" height="11.8"/><rect x="526.5" y="508.2" width="11.8" height="11.8"/><rect x="534.9" y="507.4" width="11.8" height="11.8"/><rect x="543.2" y="506.6" width="11.8" height="11.8"/><rect x="551.6" y="505.6" width="11.8" height="11.8"/><rect x="560.0" y="504.4" width="11.8" height="11.8"/><rect x="568.3" y="503.2" width="11.8" height="11.8"/><rect x="576.7" y="501.9" width="11.8" height="11.8"/><rect x="585.0" y="500.6" width="11.8" height="11.8"/><rect x="593.4" y="499.2" width="11.8" height="11.8"/><rect x="601.8" y="497.7" width="11.8" height="11.8"/><rect x="610.1" y="496.1" width="11.8" height="11.8"/><rect x="618.5" y="494.3" width="11.8" height="11.8"/><rect x="626.8" y="492.3" width="11.8" height="11.8"/><rect x="635.2" y="490.3" width="11.8" height="11.8"/><rect x="643.6" y="488.1" width="11.8" height="11.8"/><rect x="651.9" y="485.9" width="11.8" height="11.8"/><rect x="660.3" y="483.8" width="11.8" height="11.8"/><rect x="668.6" y="481.6" width="11.8" height="11.8"/><rect x="677.0" y="479.6" width="11.8" height="11.8"/><rect x="685.4" y="477.6" width="11.8" height="11.8"/><rect x="693.7" y="475.9" width="11.8" height="11.8"/><rect x="702.1" y="474.3" width="11.8" height="11.8"/><rect x="710.4" y="472.9" width="11.8" height="11.8"/><rect x="718.8" y="471.8" width="11.8" height="11.8"/><rect x="727.2" y="470.9" width="11.8" height="11.8"/><rect x="735.5" y="470.1" width="11.8" height="11.8"/><rect x="743.9" y="469.3" width="11.8" height="11.8"/><rect x="752.2" y="468.6" width="11.8" height="11.8"/><rect x="760.6" y="467.9" width="11.8" height="11.8"/><rect x="769.0" y="467.3" width="11.8" height="11.8"/><rect x="777.3" y="466.7" width="11.8" height="11.8"/><rect x="785.7" y="466.2" width="11.8" height="11.8"/><rect x="794.0" y="465.6" width="11.8" height="11.8"/><rect x="802.4" y="465.1" width="11.8" height="11.8"/><rect x="810.8" y="464.7" width="11.8" height="11.8"/><rect x="819.1" y="464.2" width="11.8" height="11.8"/><rect x="827.5" y="463.7" width="11.8" height="11.8"/><rect x="835.8" y="463.3" width="11.8" height="11.8"/><rect x="844.2" y="462.8" width="11.8" height="11.8"/><rect x="852.6" y="462.4" width="11.8" height="11.8"/><rect x="860.9" y="462.0" width="11.8" height="11.8"/><rect x="869.3" y="461.5" width="11.8" height="11.8"/><rect x="877.6" y="461.1" width="11.8" height="11.8"/><rect x="886.0" y="460.7" width="11.8" height="11.8"/><rect x="894.4" y="460.3" width="11.8" height="11.8"/><rect x="902.7" y="460.0" width="11.8" height="11.8"/><rect x="911.1" y="459.6" width="11.8" height="11.8"/><rect x="919.4" y="459.2" width="11.8" height="11.8"/><rect x="927.8" y="458.9" width="11.8" height="11.8"/><rect x="936.2" y="458.6" width="11.8" height="11.8"/><rect x="944.5" y="458.3" width="11.8" height="11.8"/><rect x="952.9" y="458.0" width="11.8" height="11.8"/><rect x="961.2" y="457.7" width="11.8" height="11.8"/><rect x="969.6" y="457.5" width="11.8" height="11.8"/><rect x="133.6" y="622.3" width="11.8" height="11.8"/><rect x="142.0" y="601.2" width="11.8" height="11.8"/><rect x="150.3" y="580.3" width="11.8" height="11.8"/><rect x="158.7" y="559.1" width="11.8" height="11.8"/><rect x="167.0" y="537.7" width="11.8" height="11.8"/><rect x="175.4" y="517.0" width="11.8" height="11.8"/><rect x="183.8" y="497.9" width="11.8" height="11.8"/><rect x="192.1" y="481.5" width="11.8" height="11.8"/><rect x="200.5" y="464.0" width="11.8" height="11.8"/><rect x="208.8" y="447.6" width="11.8" height="11.8"/><rect x="217.2" y="432.7" width="11.8" height="11.8"/><rect x="225.6" y="419.7" width="11.8" height="11.8"/><rect x="233.9" y="407.4" width="11.8" height="11.8"/><rect x="242.3" y="395.8" width="11.8" height="11.8"/><rect x="250.6" y="384.8" width="11.8" height="11.8"/><rect x="259.0" y="374.3" width="11.8" height="11.8"/><rect x="267.4" y="364.1" width="11.8" height="11.8"/><rect x="275.7" y="354.1" width="11.8" height="11.8"/><rect x="284.1" y="344.6" width="11.8" height="11.8"/><rect x="292.4" y="336.0" width="11.8" height="11.8"/><rect x="300.8" y="328.5" width="11.8" height="11.8"/><rect x="309.2" y="322.0" width="11.8" height="11.8"/><rect x="317.5" y="315.8" width="11.8" height="11.8"/><rect x="325.9" y="310.3" width="11.8" height="11.8"/><rect x="334.2" y="305.6" width="11.8" height="11.8"/><rect x="342.6" y="301.8" width="11.8" height="11.8"/><rect x="351.0" y="298.8" width="11.8" height="11.8"/><rect x="359.3" y="296.1" width="11.8" height="11.8"/><rect x="367.7" y="293.7" width="11.8" height="11.8"/><rect x="376.0" y="291.8" width="11.8" height="11.8"/><rect x="384.4" y="290.4" width="11.8" height="11.8"/><rect x="392.8" y="289.3" width="11.8" height="11.8"/><rect x="401.1" y="288.5" width="11.8" height="11.8"/><rect x="409.5" y="287.7" width="11.8" height="11.8"/><rect x="417.8" y="287.1" width="11.8" height="11.8"/><rect x="426.2" y="286.6" width="11.8" height="11.8"/><rect x="434.6" y="286.1" width="11.8" height="11.8"/><rect x="442.9" y="285.8" width="11.8" height="11.8"/><rect x="451.3" y="285.4" width="11.8" height="11.8"/><rect x="459.6" y="285.1" width="11.8" height="11.8"/><rect x="468.0" y="284.9" width="11.8" height="11.8"/><rect x="476.4" y="284.6" width="11.8" height="11.8"/><rect x="484.7" y="284.3" width="11.8" height="11.8"/><rect x="493.1" y="284.0" width="11.8" height="11.8"/><rect x="501.4" y="283.7" width="11.8" height="11.8"/><rect x="509.8" y="283.4" width="11.8" height="11.8"/><rect x="518.2" y="283.2" width="11.8" height="11.8"/><rect x="526.5" y="283.1" width="11.8" height="11.8"/><rect x="534.9" y="283.3" width="11.8" height="11.8"/><rect x="543.2" y="283.8" width="11.8" height="11.8"/><rect x="551.6" y="284.5" width="11.8" height="11.8"/><rect x="560.0" y="285.4" width="11.8" height="11.8"/><rect x="568.3" y="286.4" width="11.8" height="11.8"/><rect x="576.7" y="287.4" width="11.8" height="11.8"/><rect x="585.0" y="288.3" width="11.8" height="11.8"/><rect x="593.4" y="289.0" width="11.8" height="11.8"/><rect x="601.8" y="289.4" width="11.8" height="11.8"/><rect x="610.1" y="289.7" width="11.8" height="11.8"/><rect x="618.5" y="289.9" width="11.8" height="11.8"/><rect x="626.8" y="290.1" width="11.8" height="11.8"/><rect x="635.2" y="290.3" width="11.8" height="11.8"/><rect x="643.6" y="290.5" width="11.8" height="11.8"/><rect x="651.9" y="290.6" width="11.8" height="11.8"/><rect x="660.3" y="290.8" width="11.8" height="11.8"/><rect x="668.6" y="290.9" width="11.8" height="11.8"/><rect x="677.0" y="291.1" width="11.8" height="11.8"/><rect x="685.4" y="291.3" width="11.8" height="11.8"/><rect x="693.7" y="291.5" width="11.8" height="11.8"/><rect x="702.1" y="291.7" width="11.8" height="11.8"/><rect x="710.4" y="292.0" width="11.8" height="11.8"/><rect x="718.8" y="292.3" width="11.8" height="11.8"/><rect x="727.2" y="292.9" width="11.8" height="11.8"/><rect x="735.5" y="293.7" width="11.8" height="11.8"/><rect x="743.9" y="294.6" width="11.8" height="11.8"/><rect x="752.2" y="295.6" width="11.8" height="11.8"/><rect x="760.6" y="296.7" width="11.8" height="11.8"/><rect x="769.0" y="297.6" width="11.8" height="11.8"/><rect x="777.3" y="298.4" width="11.8" height="11.8"/><rect x="785.7" y="299.1" width="11.8" height="11.8"/><rect x="794.0" y="299.7" width="11.8" height="11.8"/><rect x="802.4" y="300.3" width="11.8" height="11.8"/><rect x="810.8" y="300.9" width="11.8" height="11.8"/><rect x="819.1" y="301.5" width="11.8" height="11.8"/><rect x="827.5" y="302.0" width="11.8" height="11.8"/><rect x="835.8" y="302.5" width="11.8" height="11.8"/><rect x="844.2" y="302.9" width="11.8" height="11.8"/><rect x="852.6" y="303.4" width="11.8" height="11.8"/><rect x="860.9" y="303.8" width="11.8" height="11.8"/><rect x="869.3" y="304.2" width="11.8" height="11.8"/><rect x="877.6" y="304.6" width="11.8" height="11.8"/><rect x="886.0" y="305.0" width="11.8" height="11.8"/><rect x="894.4" y="305.3" width="11.8" height="11.8"/><rect x="902.7" y="305.7" width="11.8" height="11.8"/><rect x="911.1" y="306.1" width="11.8" height="11.8"/><rect x="919.4" y="306.4" width="11.8" height="11.8"/><rect x="927.8" y="306.7" width="11.8" height="11.8"/><rect x="936.2" y="307.0" width="11.8" height="11.8"/><rect x="944.5" y="307.3" width="11.8" height="11.8"/><rect x="952.9" y="307.5" width="11.8" height="11.8"/><rect x="961.2" y="307.7" width="11.8" height="11.8"/><rect x="969.6" y="307.9" width="11.8" height="11.8"/><rect x="133.6" y="622.3" width="11.8" height="11.8"/><rect x="142.0" y="599.5" width="11.8" height="11.8"/><rect x="150.3" y="577.3" width="11.8" height="11.8"/><rect x="158.7" y="555.3" width="11.8" height="11.8"/><rect x="167.0" y="533.6" width="11.8" height="11.8"/><rect x="175.4" y="512.5" width="11.8" height="11.8"/><rect x="183.8" y="492.6" width="11.8" height="11.8"/><rect x="192.1" y="473.7" width="11.8" height="11.8"/><rect x="200.5" y="455.6" width="11.8" height="11.8"/><rect x="208.8" y="438.3" width="11.8" height="11.8"/><rect x="217.2" y="422.0" width="11.8" height="11.8"/><rect x="225.6" y="406.4" width="11.8" height="11.8"/><rect x="233.9" y="391.2" width="11.8" height="11.8"/><rect x="242.3" y="376.7" width="11.8" height="11.8"/><rect x="250.6" y="363.1" width="11.8" height="11.8"/><rect x="259.0" y="350.7" width="11.8" height="11.8"/><rect x="267.4" y="339.1" width="11.8" height="11.8"/><rect x="275.7" y="328.2" width="11.8" height="11.8"/><rect x="284.1" y="318.0" width="11.8" height="11.8"/><rect x="292.4" y="308.6" width="11.8" height="11.8"/><rect x="300.8" y="299.9" width="11.8" height="11.8"/><rect x="309.2" y="292.1" width="11.8" height="11.8"/><rect x="317.5" y="284.9" width="11.8" height="11.8"/><rect x="325.9" y="278.2" width="11.8" height="11.8"/><rect x="334.2" y="271.9" width="11.8" height="11.8"/><rect x="342.6" y="265.6" width="11.8" height="11.8"/><rect x="351.0" y="259.4" width="11.8" height="11.8"/><rect x="359.3" y="253.4" width="11.8" height="11.8"/><rect x="367.7" y="247.5" width="11.8" height="11.8"/><rect x="376.0" y="242.1" width="11.8" height="11.8"/><rect x="384.4" y="237.0" width="11.8" height="11.8"/><rect x="392.8" y="232.2" width="11.8" height="11.8"/><rect x="401.1" y="227.7" width="11.8" height="11.8"/><rect x="409.5" y="223.4" width="11.8" height="11.8"/><rect x="417.8" y="219.5" width="11.8" height="11.8"/><rect x="426.2" y="216.0" width="11.8" height="11.8"/><rect x="434.6" y="212.8" width="11.8" height="11.8"/><rect x="442.9" y="209.8" width="11.8" height="11.8"/><rect x="451.3" y="207.1" width="11.8" height="11.8"/><rect x="459.6" y="204.7" width="11.8" height="11.8"/><rect x="468.0" y="202.7" width="11.8" height="11.8"/><rect x="476.4" y="201.0" width="11.8" height="11.8"/><rect x="484.7" y="199.5" width="11.8" height="11.8"/><rect x="493.1" y="198.1" width="11.8" height="11.8"/><rect x="501.4" y="196.9" width="11.8" height="11.8"/><rect x="509.8" y="195.7" width="11.8" height="11.8"/><rect x="518.2" y="194.6" width="11.8" height="11.8"/><rect x="526.5" y="193.4" width="11.8" height="11.8"/><rect x="534.9" y="192.0" width="11.8" height="11.8"/><rect x="543.2" y="190.5" width="11.8" height="11.8"/><rect x="551.6" y="188.9" width="11.8" height="11.8"/><rect x="560.0" y="187.2" width="11.8" height="11.8"/><rect x="568.3" y="185.7" width="11.8" height="11.8"/><rect x="576.7" y="184.5" width="11.8" height="11.8"/><rect x="585.0" y="183.5" width="11.8" height="11.8"/><rect x="593.4" y="182.9" width="11.8" height="11.8"/><rect x="601.8" y="182.8" width="11.8" height="11.8"/><rect x="610.1" y="182.8" width="11.8" height="11.8"/><rect x="618.5" y="182.8" width="11.8" height="11.8"/><rect x="626.8" y="182.8" width="11.8" height="11.8"/><rect x="635.2" y="182.8" width="11.8" height="11.8"/><rect x="643.6" y="182.9" width="11.8" height="11.8"/><rect x="651.9" y="182.9" width="11.8" height="11.8"/><rect x="660.3" y="182.9" width="11.8" height="11.8"/><rect x="668.6" y="182.9" width="11.8" height="11.8"/><rect x="677.0" y="183.0" width="11.8" height="11.8"/><rect x="685.4" y="183.0" width="11.8" height="11.8"/><rect x="693.7" y="183.0" width="11.8" height="11.8"/><rect x="702.1" y="183.1" width="11.8" height="11.8"/><rect x="710.4" y="183.1" width="11.8" height="11.8"/><rect x="718.8" y="183.2" width="11.8" height="11.8"/><rect x="727.2" y="183.4" width="11.8" height="11.8"/><rect x="735.5" y="183.8" width="11.8" height="11.8"/><rect x="743.9" y="184.4" width="11.8" height="11.8"/><rect x="752.2" y="189.0" width="11.8" height="11.8"/><rect x="760.6" y="185.9" width="11.8" height="11.8"/><rect x="769.0" y="186.7" width="11.8" height="11.8"/><rect x="777.3" y="187.4" width="11.8" height="11.8"/><rect x="785.7" y="188.1" width="11.8" height="11.8"/><rect x="794.0" y="188.8" width="11.8" height="11.8"/><rect x="802.4" y="189.5" width="11.8" height="11.8"/><rect x="810.8" y="190.2" width="11.8" height="11.8"/><rect x="819.1" y="190.9" width="11.8" height="11.8"/><rect x="827.5" y="191.6" width="11.8" height="11.8"/><rect x="835.8" y="192.4" width="11.8" height="11.8"/><rect x="844.2" y="193.2" width="11.8" height="11.8"/><rect x="852.6" y="193.9" width="11.8" height="11.8"/><rect x="860.9" y="194.7" width="11.8" height="11.8"/><rect x="869.3" y="195.5" width="11.8" height="11.8"/><rect x="877.6" y="196.4" width="11.8" height="11.8"/><rect x="886.0" y="197.2" width="11.8" height="11.8"/><rect x="894.4" y="198.1" width="11.8" height="11.8"/><rect x="902.7" y="198.9" width="11.8" height="11.8"/><rect x="911.1" y="199.8" width="11.8" height="11.8"/><rect x="919.4" y="200.7" width="11.8" height="11.8"/><rect x="927.8" y="201.6" width="11.8" height="11.8"/><rect x="936.2" y="202.6" width="11.8" height="11.8"/><rect x="944.5" y="203.5" width="11.8" height="11.8"/><rect x="952.9" y="204.5" width="11.8" height="11.8"/><rect x="961.2" y="205.5" width="11.8" height="11.8"/><rect x="969.6" y="206.5" width="11.8" height="11.8"/></g>
<g fill="#fff" stroke="#0033ff" stroke-width="1.2"><rect x="133.6" y="620.0" width="11.8" height="11.8"/><rect x="142.0" y="620.0" width="11.8" height="11.8"/><rect x="150.3" y="620.0" width="11.8" height="11.8"/><rect x="158.7" y="620.0" width="11.8" height="11.8"/><rect x="167.0" y="620.0" width="11.8" height="11.8"/><rect x="175.4" y="620.0" width="11.8" height="11.8"/><rect x="183.8" y="620.0" width="11.8" height="11.8"/><rect x="192.1" y="620.0" width="11.8" height="11.8"/><rect x="200.5" y="620.0" width="11.8" height="11.8"/><rect x="208.8" y="620.0" width="11.8" height="11.8"/><rect x="217.2" y="620.0" width="11.8" height="11.8"/><rect x="225.6" y="620.0" width="11.8" height="11.8"/><rect x="233.9" y="620.0" width="11.8" height="11.8"/><rect x="242.3" y="620.0" width="11.8" height="11.8"/><rect x="250.6" y="620.0" width="11.8" height="11.8"/><rect x="259.0" y="620.0" width="11.8" height="11.8"/><rect x="267.4" y="620.0" width="11.8" height="11.8"/><rect x="275.7" y="620.0" width="11.8" height="11.8"/><rect x="284.1" y="620.0" width="11.8" height="11.8"/><rect x="292.4" y="620.0" width="11.8" height="11.8"/><rect x="300.8" y="620.0" width="11.8" height="11.8"/><rect x="309.2" y="620.0" width="11.8" height="11.8"/><rect x="317.5" y="620.0" width="11.8" height="11.8"/><rect x="325.9" y="620.0" width="11.8" height="11.8"/><rect x="334.2" y="620.0" width="11.8" height="11.8"/><rect x="342.6" y="620.0" width="11.8" height="11.8"/><rect x="351.0" y="620.0" width="11.8" height="11.8"/><rect x="359.3" y="620.0" width="11.8" height="11.8"/><rect x="367.7" y="620.0" width="11.8" height="11.8"/><rect x="376.0" y="620.0" width="11.8" height="11.8"/><rect x="384.4" y="620.0" width="11.8" height="11.8"/><rect x="392.8" y="620.0" width="11.8" height="11.8"/><rect x="401.1" y="620.0" width="11.8" height="11.8"/><rect x="409.5" y="620.0" width="11.8" height="11.8"/><rect x="417.8" y="620.0" width="11.8" height="11.8"/><rect x="426.2" y="620.0" width="11.8" height="11.8"/><rect x="434.6" y="620.0" width="11.8" height="11.8"/><rect x="442.9" y="620.0" width="11.8" height="11.8"/><rect x="451.3" y="620.0" width="11.8" height="11.8"/><rect x="459.6" y="620.0" width="11.8" height="11.8"/><rect x="468.0" y="620.0" width="11.8" height="11.8"/><rect x="476.4" y="620.0" width="11.8" height="11.8"/><rect x="484.7" y="620.0" width="11.8" height="11.8"/><rect x="493.1" y="620.0" width="11.8" height="11.8"/><rect x="501.4" y="620.0" width="11.8" height="11.8"/><rect x="509.8" y="620.0" width="11.8" height="11.8"/><rect x="518.2" y="620.0" width="11.8" height="11.8"/><rect x="526.5" y="620.0" width="11.8" height="11.8"/><rect x="534.9" y="620.0" width="11.8" height="11.8"/><rect x="543.2" y="620.0" width="11.8" height="11.8"/><rect x="551.6" y="620.0" width="11.8" height="11.8"/><rect x="560.0" y="620.0" width="11.8" height="11.8"/><rect x="568.3" y="620.0" width="11.8" height="11.8"/><rect x="576.7" y="620.0" width="11.8" height="11.8"/><rect x="585.0" y="620.0" width="11.8" height="11.8"/><rect x="593.4" y="620.0" width="11.8" height="11.8"/><rect x="601.8" y="620.0" width="11.8" height="11.8"/><rect x="610.1" y="620.0" width="11.8" height="11.8"/><rect x="618.5" y="620.0" width="11.8" height="11.8"/><rect x="626.8" y="620.0" width="11.8" height="11.8"/><rect x="635.2" y="620.0" width="11.8" height="11.8"/><rect x="643.6" y="620.0" width="11.8" height="11.8"/><rect x="651.9" y="620.0" width="11.8" height="11.8"/><rect x="660.3" y="620.0" width="11.8" height="11.8"/><rect x="668.6" y="620.0" width="11.8" height="11.8"/><rect x="677.0" y="620.0" width="11.8" height="11.8"/><rect x="685.4" y="620.0" width="11.8" height="11.8"/><rect x="693.7" y="620.0" width="11.8" height="11.8"/><rect x="702.1" y="620.0" width="11.8" height="11.8"/><rect x="710.4" y="620.0" width="11.8" height="11.8"/><rect x="718.8" y="620.0" width="11.8" height="11.8"/><rect x="727.2" y="620.0" width="11.8" height="11.8"/><rect x="735.5" y="620.0" width="11.8" height="11.8"/><rect x="743.9" y="620.0" width="11.8" height="11.8"/><rect x="752.2" y="620.0" width="11.8" height="11.8"/><rect x="760.6" y="620.0" width="11.8" height="11.8"/><rect x="769.0" y="620.0" width="11.8" height="11.8"/><rect x="777.3" y="620.0" width="11.8" height="11.8"/><rect x="785.7" y="620.0" width="11.8" height="11.8"/><rect x="794.0" y="620.0" width="11.8" height="11.8"/><rect x="802.4" y="620.0" width="11.8" height="11.8"/><rect x="810.8" y="620.0" width="11.8" height="11.8"/><rect x="819.1" y="620.0" width="11.8" height="11.8"/><rect x="827.5" y="620.0" width="11.8" height="11.8"/><rect x="835.8" y="620.0" width="11.8" height="11.8"/><rect x="844.2" y="620.0" width="11.8" height="11.8"/><rect x="852.6" y="620.0" width="11.8" height="11.8"/><rect x="860.9" y="620.0" width="11.8" height="11.8"/><rect x="869.3" y="620.0" width="11.8" height="11.8"/><rect x="877.6" y="620.0" width="11.8" height="11.8"/><rect x="886.0" y="620.0" width="11.8" height="11.8"/><rect x="894.4" y="620.0" width="11.8" height="11.8"/><rect x="902.7" y="620.0" width="11.8" height="11.8"/><rect x="911.1" y="620.0" width="11.8" height="11.8"/><rect x="919.4" y="620.0" width="11.8" height="11.8"/><rect x="927.8" y="620.0" width="11.8" height="11.8"/><rect x="936.2" y="620.0" width="11.8" height="11.8"/><rect x="944.5" y="620.0" width="11.8" height="11.8"/><rect x="952.9" y="620.0" width="11.8" height="11.8"/><rect x="961.2" y="620.0" width="11.8" height="11.8"/><rect x="969.6" y="620.0" width="11.8" height="11.8"/><rect x="133.6" y="622.3" width="11.8" height="11.8"/><rect x="142.0" y="600.4" width="11.8" height="11.8"/><rect x="150.3" y="582.2" width="11.8" height="11.8"/><rect x="158.7" y="566.9" width="11.8" height="11.8"/><rect x="167.0" y="555.5" width="11.8" height="11.8"/><rect x="175.4" y="548.7" width="11.8" height="11.8"/><rect x="183.8" y="544.1" width="11.8" height="11.8"/><rect x="192.1" y="541.2" width="11.8" height="11.8"/><rect x="200.5" y="539.1" width="11.8" height="11.8"/><rect x="208.8" y="537.7" width="11.8" height="11.8"/><rect x="217.2" y="536.5" width="11.8" height="11.8"/><rect x="225.6" y="535.3" width="11.8" height="11.8"/><rect x="233.9" y="546.8" width="11.8" height="11.8"/><rect x="242.3" y="532.3" width="11.8" height="11.8"/><rect x="250.6" y="531.1" width="11.8" height="11.8"/><rect x="259.0" y="530.1" width="11.8" height="11.8"/><rect x="267.4" y="528.9" width="11.8" height="11.8"/><rect x="275.7" y="527.3" width="11.8" height="11.8"/><rect x="284.1" y="525.9" width="11.8" height="11.8"/><rect x="292.4" y="524.6" width="11.8" height="11.8"/><rect x="300.8" y="523.1" width="11.8" height="11.8"/><rect x="309.2" y="521.6" width="11.8" height="11.8"/><rect x="317.5" y="520.6" width="11.8" height="11.8"/><rect x="325.9" y="519.9" width="11.8" height="11.8"/><rect x="334.2" y="519.2" width="11.8" height="11.8"/><rect x="342.6" y="518.5" width="11.8" height="11.8"/><rect x="351.0" y="517.8" width="11.8" height="11.8"/><rect x="359.3" y="517.1" width="11.8" height="11.8"/><rect x="367.7" y="516.5" width="11.8" height="11.8"/><rect x="376.0" y="515.8" width="11.8" height="11.8"/><rect x="384.4" y="515.1" width="11.8" height="11.8"/><rect x="392.8" y="514.4" width="11.8" height="11.8"/><rect x="401.1" y="513.7" width="11.8" height="11.8"/><rect x="409.5" y="512.9" width="11.8" height="11.8"/><rect x="417.8" y="512.1" width="11.8" height="11.8"/><rect x="426.2" y="511.2" width="11.8" height="11.8"/><rect x="434.6" y="510.1" width="11.8" height="11.8"/><rect x="442.9" y="509.0" width="11.8" height="11.8"/><rect x="451.3" y="507.8" width="11.8" height="11.8"/><rect x="459.6" y="506.7" width="11.8" height="11.8"/><rect x="468.0" y="505.8" width="11.8" height="11.8"/><rect x="476.4" y="505.0" width="11.8" height="11.8"/><rect x="484.7" y="504.3" width="11.8" height="11.8"/><rect x="493.1" y="503.7" width="11.8" height="11.8"/><rect x="501.4" y="503.2" width="11.8" height="11.8"/><rect x="509.8" y="502.7" width="11.8" height="11.8"/><rect x="518.2" y="502.2" width="11.8" height="11.8"/><rect x="526.5" y="501.6" width="11.8" height="11.8"/><rect x="534.9" y="500.9" width="11.8" height="11.8"/><rect x="543.2" y="500.1" width="11.8" height="11.8"/><rect x="551.6" y="499.1" width="11.8" height="11.8"/><rect x="560.0" y="498.1" width="11.8" height="11.8"/><rect x="568.3" y="496.9" width="11.8" height="11.8"/><rect x="576.7" y="495.6" width="11.8" height="11.8"/><rect x="585.0" y="494.3" width="11.8" height="11.8"/><rect x="593.4" y="493.0" width="11.8" height="11.8"/><rect x="601.8" y="491.7" width="11.8" height="11.8"/><rect x="610.1" y="490.2" width="11.8" height="11.8"/><rect x="618.5" y="488.6" width="11.8" height="11.8"/><rect x="626.8" y="486.8" width="11.8" height="11.8"/><rect x="635.2" y="485.0" width="11.8" height="11.8"/><rect x="643.6" y="483.1" width="11.8" height="11.8"/><rect x="651.9" y="481.2" width="11.8" height="11.8"/><rect x="660.3" y="479.4" width="11.8" height="11.8"/><rect x="668.6" y="477.5" width="11.8" height="11.8"/><rect x="677.0" y="475.7" width="11.8" height="11.8"/><rect x="685.4" y="474.0" width="11.8" height="11.8"/><rect x="693.7" y="472.4" width="11.8" height="11.8"/><rect x="702.1" y="471.0" width="11.8" height="11.8"/><rect x="710.4" y="469.8" width="11.8" height="11.8"/><rect x="718.8" y="468.7" width="11.8" height="11.8"/><rect x="727.2" y="467.9" width="11.8" height="11.8"/><rect x="735.5" y="467.1" width="11.8" height="11.8"/><rect x="743.9" y="466.3" width="11.8" height="11.8"/><rect x="752.2" y="465.6" width="11.8" height="11.8"/><rect x="760.6" y="465.0" width="11.8" height="11.8"/><rect x="769.0" y="464.3" width="11.8" height="11.8"/><rect x="777.3" y="463.8" width="11.8" height="11.8"/><rect x="785.7" y="463.2" width="11.8" height="11.8"/><rect x="794.0" y="462.7" width="11.8" height="11.8"/><rect x="802.4" y="462.2" width="11.8" height="11.8"/><rect x="810.8" y="461.7" width="11.8" height="11.8"/><rect x="819.1" y="461.2" width="11.8" height="11.8"/><rect x="827.5" y="460.7" width="11.8" height="11.8"/><rect x="835.8" y="460.2" width="11.8" height="11.8"/><rect x="844.2" y="459.8" width="11.8" height="11.8"/><rect x="852.6" y="459.3" width="11.8" height="11.8"/><rect x="860.9" y="458.9" width="11.8" height="11.8"/><rect x="869.3" y="458.4" width="11.8" height="11.8"/><rect x="877.6" y="458.0" width="11.8" height="11.8"/><rect x="886.0" y="457.6" width="11.8" height="11.8"/><rect x="894.4" y="457.2" width="11.8" height="11.8"/><rect x="902.7" y="456.8" width="11.8" height="11.8"/><rect x="911.1" y="456.4" width="11.8" height="11.8"/><rect x="919.4" y="456.0" width="11.8" height="11.8"/><rect x="927.8" y="455.6" width="11.8" height="11.8"/><rect x="936.2" y="455.3" width="11.8" height="11.8"/><rect x="944.5" y="455.0" width="11.8" height="11.8"/><rect x="952.9" y="454.6" width="11.8" height="11.8"/><rect x="961.2" y="454.3" width="11.8" height="11.8"/><rect x="969.6" y="454.1" width="11.8" height="11.8"/><rect x="133.6" y="622.3" width="11.8" height="11.8"/><rect x="142.0" y="600.1" width="11.8" height="11.8"/><rect x="150.3" y="578.4" width="11.8" height="11.8"/><rect x="158.7" y="557.4" width="11.8" height="11.8"/><rect x="167.0" y="536.9" width="11.8" height="11.8"/><rect x="175.4" y="516.5" width="11.8" height="11.8"/><rect x="183.8" y="496.0" width="11.8" height="11.8"/><rect x="192.1" y="475.4" width="11.8" height="11.8"/><rect x="200.5" y="457.1" width="11.8" height="11.8"/><rect x="208.8" y="441.7" width="11.8" height="11.8"/><rect x="217.2" y="427.0" width="11.8" height="11.8"/><rect x="225.6" y="411.3" width="11.8" height="11.8"/><rect x="233.9" y="397.8" width="11.8" height="11.8"/><rect x="242.3" y="385.3" width="11.8" height="11.8"/><rect x="250.6" y="373.6" width="11.8" height="11.8"/><rect x="259.0" y="362.9" width="11.8" height="11.8"/><rect x="267.4" y="352.8" width="11.8" height="11.8"/><rect x="275.7" y="343.3" width="11.8" height="11.8"/><rect x="284.1" y="334.7" width="11.8" height="11.8"/><rect x="292.4" y="327.1" width="11.8" height="11.8"/><rect x="300.8" y="320.9" width="11.8" height="11.8"/><rect x="309.2" y="315.1" width="11.8" height="11.8"/><rect x="317.5" y="309.5" width="11.8" height="11.8"/><rect x="325.9" y="303.1" width="11.8" height="11.8"/><rect x="334.2" y="296.9" width="11.8" height="11.8"/><rect x="342.6" y="292.9" width="11.8" height="11.8"/><rect x="351.0" y="290.1" width="11.8" height="11.8"/><rect x="359.3" y="287.8" width="11.8" height="11.8"/><rect x="367.7" y="285.9" width="11.8" height="11.8"/><rect x="376.0" y="284.3" width="11.8" height="11.8"/><rect x="384.4" y="282.8" width="11.8" height="11.8"/><rect x="392.8" y="281.4" width="11.8" height="11.8"/><rect x="401.1" y="280.1" width="11.8" height="11.8"/><rect x="409.5" y="279.0" width="11.8" height="11.8"/><rect x="417.8" y="277.9" width="11.8" height="11.8"/><rect x="426.2" y="277.0" width="11.8" height="11.8"/><rect x="434.6" y="276.2" width="11.8" height="11.8"/><rect x="442.9" y="275.4" width="11.8" height="11.8"/><rect x="451.3" y="274.6" width="11.8" height="11.8"/><rect x="459.6" y="274.0" width="11.8" height="11.8"/><rect x="468.0" y="273.5" width="11.8" height="11.8"/><rect x="476.4" y="273.1" width="11.8" height="11.8"/><rect x="484.7" y="272.9" width="11.8" height="11.8"/><rect x="493.1" y="272.7" width="11.8" height="11.8"/><rect x="501.4" y="272.5" width="11.8" height="11.8"/><rect x="509.8" y="272.4" width="11.8" height="11.8"/><rect x="518.2" y="272.3" width="11.8" height="11.8"/><rect x="526.5" y="272.1" width="11.8" height="11.8"/><rect x="534.9" y="272.0" width="11.8" height="11.8"/><rect x="543.2" y="271.8" width="11.8" height="11.8"/><rect x="551.6" y="271.6" width="11.8" height="11.8"/><rect x="560.0" y="271.4" width="11.8" height="11.8"/><rect x="568.3" y="271.3" width="11.8" height="11.8"/><rect x="576.7" y="271.1" width="11.8" height="11.8"/><rect x="585.0" y="271.0" width="11.8" height="11.8"/><rect x="593.4" y="270.9" width="11.8" height="11.8"/><rect x="601.8" y="271.0" width="11.8" height="11.8"/><rect x="610.1" y="271.1" width="11.8" height="11.8"/><rect x="618.5" y="271.5" width="11.8" height="11.8"/><rect x="626.8" y="272.0" width="11.8" height="11.8"/><rect x="635.2" y="272.6" width="11.8" height="11.8"/><rect x="643.6" y="273.4" width="11.8" height="11.8"/><rect x="651.9" y="274.3" width="11.8" height="11.8"/><rect x="660.3" y="275.3" width="11.8" height="11.8"/><rect x="668.6" y="276.3" width="11.8" height="11.8"/><rect x="677.0" y="277.4" width="11.8" height="11.8"/><rect x="685.4" y="278.5" width="11.8" height="11.8"/><rect x="693.7" y="279.6" width="11.8" height="11.8"/><rect x="702.1" y="280.7" width="11.8" height="11.8"/><rect x="710.4" y="281.8" width="11.8" height="11.8"/><rect x="718.8" y="282.9" width="11.8" height="11.8"/><rect x="727.2" y="284.2" width="11.8" height="11.8"/><rect x="735.5" y="285.8" width="11.8" height="11.8"/><rect x="743.9" y="287.5" width="11.8" height="11.8"/><rect x="752.2" y="289.2" width="11.8" height="11.8"/><rect x="760.6" y="290.6" width="11.8" height="11.8"/><rect x="769.0" y="291.6" width="11.8" height="11.8"/><rect x="777.3" y="291.9" width="11.8" height="11.8"/><rect x="785.7" y="291.9" width="11.8" height="11.8"/><rect x="794.0" y="291.9" width="11.8" height="11.8"/><rect x="802.4" y="291.9" width="11.8" height="11.8"/><rect x="810.8" y="291.9" width="11.8" height="11.8"/><rect x="819.1" y="291.9" width="11.8" height="11.8"/><rect x="827.5" y="291.9" width="11.8" height="11.8"/><rect x="835.8" y="291.9" width="11.8" height="11.8"/><rect x="844.2" y="291.9" width="11.8" height="11.8"/><rect x="852.6" y="291.9" width="11.8" height="11.8"/><rect x="860.9" y="291.9" width="11.8" height="11.8"/><rect x="869.3" y="291.9" width="11.8" height="11.8"/><rect x="877.6" y="292.0" width="11.8" height="11.8"/><rect x="886.0" y="292.1" width="11.8" height="11.8"/><rect x="894.4" y="292.3" width="11.8" height="11.8"/><rect x="902.7" y="292.5" width="11.8" height="11.8"/><rect x="911.1" y="292.7" width="11.8" height="11.8"/><rect x="919.4" y="293.0" width="11.8" height="11.8"/><rect x="927.8" y="293.3" width="11.8" height="11.8"/><rect x="936.2" y="293.6" width="11.8" height="11.8"/><rect x="944.5" y="293.9" width="11.8" height="11.8"/><rect x="952.9" y="294.3" width="11.8" height="11.8"/><rect x="961.2" y="294.6" width="11.8" height="11.8"/><rect x="969.6" y="295.0" width="11.8" height="11.8"/><rect x="133.6" y="622.3" width="11.8" height="11.8"/><rect x="142.0" y="596.4" width="11.8" height="11.8"/><rect x="150.3" y="575.0" width="11.8" height="11.8"/><rect x="158.7" y="553.2" width="11.8" height="11.8"/><rect x="167.0" y="530.7" width="11.8" height="11.8"/><rect x="175.4" y="510.1" width="11.8" height="11.8"/><rect x="183.8" y="488.8" width="11.8" height="11.8"/><rect x="192.1" y="468.8" width="11.8" height="11.8"/><rect x="200.5" y="449.9" width="11.8" height="11.8"/><rect x="208.8" y="431.5" width="11.8" height="11.8"/><rect x="217.2" y="414.4" width="11.8" height="11.8"/><rect x="225.6" y="399.4" width="11.8" height="11.8"/><rect x="233.9" y="385.0" width="11.8" height="11.8"/><rect x="242.3" y="369.6" width="11.8" height="11.8"/><rect x="250.6" y="355.1" width="11.8" height="11.8"/><rect x="259.0" y="342.5" width="11.8" height="11.8"/><rect x="267.4" y="330.8" width="11.8" height="11.8"/><rect x="275.7" y="319.6" width="11.8" height="11.8"/><rect x="284.1" y="309.3" width="11.8" height="11.8"/><rect x="292.4" y="299.9" width="11.8" height="11.8"/><rect x="300.8" y="291.5" width="11.8" height="11.8"/><rect x="309.2" y="284.2" width="11.8" height="11.8"/><rect x="317.5" y="277.0" width="11.8" height="11.8"/><rect x="325.9" y="268.9" width="11.8" height="11.8"/><rect x="334.2" y="261.1" width="11.8" height="11.8"/><rect x="342.6" y="254.2" width="11.8" height="11.8"/><rect x="351.0" y="247.8" width="11.8" height="11.8"/><rect x="359.3" y="241.7" width="11.8" height="11.8"/><rect x="367.7" y="235.7" width="11.8" height="11.8"/><rect x="376.0" y="229.6" width="11.8" height="11.8"/><rect x="384.4" y="223.8" width="11.8" height="11.8"/><rect x="392.8" y="218.3" width="11.8" height="11.8"/><rect x="401.1" y="213.1" width="11.8" height="11.8"/><rect x="409.5" y="208.4" width="11.8" height="11.8"/><rect x="417.8" y="204.2" width="11.8" height="11.8"/><rect x="426.2" y="200.4" width="11.8" height="11.8"/><rect x="434.6" y="197.1" width="11.8" height="11.8"/><rect x="442.9" y="194.1" width="11.8" height="11.8"/><rect x="451.3" y="191.5" width="11.8" height="11.8"/><rect x="459.6" y="189.0" width="11.8" height="11.8"/><rect x="468.0" y="186.7" width="11.8" height="11.8"/><rect x="476.4" y="184.2" width="11.8" height="11.8"/><rect x="484.7" y="182.0" width="11.8" height="11.8"/><rect x="493.1" y="180.2" width="11.8" height="11.8"/><rect x="501.4" y="178.5" width="11.8" height="11.8"/><rect x="509.8" y="177.0" width="11.8" height="11.8"/><rect x="518.2" y="175.5" width="11.8" height="11.8"/><rect x="526.5" y="174.0" width="11.8" height="11.8"/><rect x="534.9" y="172.5" width="11.8" height="11.8"/><rect x="543.2" y="171.2" width="11.8" height="11.8"/><rect x="551.6" y="170.0" width="11.8" height="11.8"/><rect x="560.0" y="169.1" width="11.8" height="11.8"/><rect x="568.3" y="168.3" width="11.8" height="11.8"/><rect x="576.7" y="167.6" width="11.8" height="11.8"/><rect x="585.0" y="167.0" width="11.8" height="11.8"/><rect x="593.4" y="166.4" width="11.8" height="11.8"/><rect x="601.8" y="166.0" width="11.8" height="11.8"/><rect x="610.1" y="165.7" width="11.8" height="11.8"/><rect x="618.5" y="165.3" width="11.8" height="11.8"/><rect x="626.8" y="165.0" width="11.8" height="11.8"/><rect x="635.2" y="164.8" width="11.8" height="11.8"/><rect x="643.6" y="164.6" width="11.8" height="11.8"/><rect x="651.9" y="164.5" width="11.8" height="11.8"/><rect x="660.3" y="164.5" width="11.8" height="11.8"/><rect x="668.6" y="164.6" width="11.8" height="11.8"/><rect x="677.0" y="164.8" width="11.8" height="11.8"/><rect x="685.4" y="165.1" width="11.8" height="11.8"/><rect x="693.7" y="165.4" width="11.8" height="11.8"/><rect x="702.1" y="165.7" width="11.8" height="11.8"/><rect x="710.4" y="166.1" width="11.8" height="11.8"/><rect x="718.8" y="166.4" width="11.8" height="11.8"/><rect x="727.2" y="166.8" width="11.8" height="11.8"/><rect x="735.5" y="167.3" width="11.8" height="11.8"/><rect x="743.9" y="167.8" width="11.8" height="11.8"/><rect x="752.2" y="172.2" width="11.8" height="11.8"/><rect x="760.6" y="169.0" width="11.8" height="11.8"/><rect x="769.0" y="169.6" width="11.8" height="11.8"/><rect x="777.3" y="170.2" width="11.8" height="11.8"/><rect x="785.7" y="170.9" width="11.8" height="11.8"/><rect x="794.0" y="171.5" width="11.8" height="11.8"/><rect x="802.4" y="172.2" width="11.8" height="11.8"/><rect x="810.8" y="172.9" width="11.8" height="11.8"/><rect x="819.1" y="173.6" width="11.8" height="11.8"/><rect x="827.5" y="174.4" width="11.8" height="11.8"/><rect x="835.8" y="175.1" width="11.8" height="11.8"/><rect x="844.2" y="175.9" width="11.8" height="11.8"/><rect x="852.6" y="176.6" width="11.8" height="11.8"/><rect x="860.9" y="177.5" width="11.8" height="11.8"/><rect x="869.3" y="178.3" width="11.8" height="11.8"/><rect x="877.6" y="179.1" width="11.8" height="11.8"/><rect x="886.0" y="180.0" width="11.8" height="11.8"/><rect x="894.4" y="180.9" width="11.8" height="11.8"/><rect x="902.7" y="181.7" width="11.8" height="11.8"/><rect x="911.1" y="182.7" width="11.8" height="11.8"/><rect x="919.4" y="183.6" width="11.8" height="11.8"/><rect x="927.8" y="184.6" width="11.8" height="11.8"/><rect x="936.2" y="185.5" width="11.8" height="11.8"/><rect x="944.5" y="186.5" width="11.8" height="11.8"/><rect x="952.9" y="187.6" width="11.8" height="11.8"/><rect x="961.2" y="188.6" width="11.8" height="11.8"/><rect x="969.6" y="189.7" width="11.8" height="11.8"/></g>
<path d="M133.0 619.4h13v13h-13zM141.4 619.4h13v13h-13zM149.7 619.4h13v13h-13zM158.1 619.4h13v13h-13zM166.4 619.4h13v13h-13zM174.8 619.4h13v13h-13zM183.2 619.4h13v13h-13zM191.5 619.4h13v13h-13zM199.9 619.4h13v13h-13zM208.2 619.4h13v13h-13zM216.6 619.4h13v13h-13zM225.0 619.4h13v13h-13zM233.3 619.4h13v13h-13zM241.7 619.4h13v13h-13zM250.0 619.4h13v13h-13zM258.4 619.4h13v13h-13zM266.8 619.4h13v13h-13zM275.1 619.4h13v13h-13zM283.5 619.4h13v13h-13zM291.8 619.4h13v13h-13zM300.2 619.4h13v13h-13zM308.6 619.4h13v13h-13zM316.9 619.4h13v13h-13zM325.3 619.4h13v13h-13zM333.6 619.4h13v13h-13zM342.0 619.4h13v13h-13zM350.4 619.4h13v13h-13zM358.7 619.4h13v13h-13zM367.1 619.4h13v13h-13zM375.4 619.4h13v13h-13zM383.8 619.4h13v13h-13zM392.2 619.4h13v13h-13zM400.5 619.4h13v13h-13zM408.9 619.4h13v13h-13zM417.2 619.4h13v13h-13zM425.6 619.4h13v13h-13zM434.0 619.4h13v13h-13zM442.3 619.4h13v13h-13zM450.7 619.4h13v13h-13zM459.0 619.4h13v13h-13zM467.4 619.4h13v13h-13zM475.8 619.4h13v13h-13zM484.1 619.4h13v13h-13zM492.5 619.4h13v13h-13zM500.8 619.4h13v13h-13zM509.2 619.4h13v13h-13zM517.6 619.4h13v13h-13zM525.9 619.4h13v13h-13zM534.3 619.4h13v13h-13zM542.6 619.4h13v13h-13zM551.0 619.4h13v13h-13zM559.4 619.4h13v13h-13zM567.7 619.4h13v13h-13zM576.1 619.4h13v13h-13zM584.4 619.4h13v13h-13zM592.8 619.4h13v13h-13zM601.2 619.4h13v13h-13zM609.5 619.4h13v13h-13zM617.9 619.4h13v13h-13zM626.2 619.4h13v13h-13zM634.6 619.4h13v13h-13zM643.0 619.4h13v13h-13zM651.3 619.4h13v13h-13zM659.7 619.4h13v13h-13zM668.0 619.4h13v13h-13zM676.4 619.4h13v13h-13zM684.8 619.4h13v13h-13zM693.1 619.4h13v13h-13zM701.5 619.4h13v13h-13zM709.8 619.4h13v13h-13zM718.2 619.4h13v13h-13zM726.6 619.4h13v13h-13zM734.9 619.4h13v13h-13zM743.3 619.4h13v13h-13zM751.6 619.4h13v13h-13zM760.0 619.4h13v13h-13zM768.4 619.4h13v13h-13zM776.7 619.4h13v13h-13zM785.1 619.4h13v13h-13zM793.4 619.4h13v13h-13zM801.8 619.4h13v13h-13zM810.2 619.4h13v13h-13zM818.5 619.4h13v13h-13zM826.9 619.4h13v13h-13zM835.2 619.4h13v13h-13zM843.6 619.4h13v13h-13zM852.0 619.4h13v13h-13zM860.3 619.4h13v13h-13zM868.7 619.4h13v13h-13zM877.0 619.4h13v13h-13zM885.4 619.4h13v13h-13zM893.8 619.4h13v13h-13zM902.1 619.4h13v13h-13zM910.5 619.4h13v13h-13zM918.8 619.4h13v13h-13zM927.2 619.4h13v13h-13zM935.6 619.4h13v13h-13zM943.9 619.4h13v13h-13zM952.3 619.4h13v13h-13zM960.6 619.4h13v13h-13zM969.0 619.4h13v13h-13zM133.0 621.7h13v13h-13zM141.4 621.7h13v13h-13zM149.7 610.3h13v13h-13zM158.1 604.5h13v13h-13zM166.4 602.0h13v13h-13zM174.8 600.3h13v13h-13zM183.2 599.1h13v13h-13zM191.5 598.1h13v13h-13zM199.9 597.3h13v13h-13zM208.2 596.6h13v13h-13zM216.6 595.9h13v13h-13zM225.0 595.2h13v13h-13zM233.3 594.5h13v13h-13zM241.7 593.9h13v13h-13zM250.0 593.3h13v13h-13zM258.4 592.7h13v13h-13zM266.8 592.2h13v13h-13zM275.1 591.8h13v13h-13zM283.5 591.5h13v13h-13zM291.8 591.2h13v13h-13zM300.2 591.0h13v13h-13zM308.6 590.9h13v13h-13zM316.9 590.8h13v13h-13zM325.3 590.6h13v13h-13zM333.6 590.5h13v13h-13zM342.0 590.5h13v13h-13zM350.4 590.4h13v13h-13zM358.7 590.3h13v13h-13zM367.1 590.2h13v13h-13zM375.4 590.1h13v13h-13zM383.8 590.1h13v13h-13zM392.2 590.0h13v13h-13zM400.5 589.9h13v13h-13zM408.9 589.8h13v13h-13zM417.2 589.7h13v13h-13zM425.6 589.5h13v13h-13zM434.0 589.4h13v13h-13zM442.3 589.2h13v13h-13zM450.7 589.1h13v13h-13zM459.0 588.9h13v13h-13zM467.4 588.7h13v13h-13zM475.8 588.5h13v13h-13zM484.1 588.4h13v13h-13zM492.5 588.2h13v13h-13zM500.8 588.0h13v13h-13zM509.2 587.8h13v13h-13zM517.6 587.7h13v13h-13zM525.9 587.5h13v13h-13zM534.3 587.4h13v13h-13zM542.6 587.3h13v13h-13zM551.0 587.2h13v13h-13zM559.4 587.1h13v13h-13zM567.7 587.0h13v13h-13zM576.1 586.9h13v13h-13zM584.4 586.8h13v13h-13zM592.8 586.7h13v13h-13zM601.2 586.6h13v13h-13zM609.5 586.5h13v13h-13zM617.9 586.4h13v13h-13zM626.2 586.3h13v13h-13zM634.6 586.2h13v13h-13zM643.0 586.1h13v13h-13zM651.3 586.1h13v13h-13zM659.7 586.0h13v13h-13zM668.0 585.9h13v13h-13zM676.4 585.8h13v13h-13zM684.8 585.8h13v13h-13zM693.1 585.7h13v13h-13zM701.5 585.6h13v13h-13zM709.8 585.5h13v13h-13zM718.2 585.5h13v13h-13zM726.6 585.4h13v13h-13zM734.9 585.3h13v13h-13zM743.3 585.2h13v13h-13zM751.6 585.2h13v13h-13zM760.0 585.1h13v13h-13zM768.4 585.0h13v13h-13zM776.7 584.9h13v13h-13zM785.1 584.9h13v13h-13zM793.4 584.8h13v13h-13zM801.8 584.7h13v13h-13zM810.2 584.7h13v13h-13zM818.5 584.6h13v13h-13zM826.9 584.5h13v13h-13zM835.2 584.5h13v13h-13zM843.6 584.4h13v13h-13zM852.0 584.3h13v13h-13zM860.3 584.3h13v13h-13zM868.7 584.2h13v13h-13zM877.0 584.2h13v13h-13zM885.4 584.1h13v13h-13zM893.8 584.0h13v13h-13zM902.1 584.0h13v13h-13zM910.5 583.9h13v13h-13zM918.8 583.9h13v13h-13zM927.2 583.8h13v13h-13zM935.6 583.8h13v13h-13zM943.9 583.7h13v13h-13zM952.3 583.7h13v13h-13zM960.6 583.6h13v13h-13zM969.0 583.6h13v13h-13zM133.0 621.7h13v13h-13zM141.4 615.0h13v13h-13zM149.7 606.4h13v13h-13zM158.1 595.1h13v13h-13zM166.4 582.4h13v13h-13zM174.8 571.7h13v13h-13zM183.2 561.8h13v13h-13zM191.5 551.7h13v13h-13zM199.9 541.6h13v13h-13zM208.2 531.3h13v13h-13zM216.6 521.2h13v13h-13zM225.0 513.4h13v13h-13zM233.3 505.3h13v13h-13zM241.7 496.7h13v13h-13zM250.0 488.2h13v13h-13zM258.4 479.7h13v13h-13zM266.8 471.2h13v13h-13zM275.1 463.4h13v13h-13zM283.5 456.4h13v13h-13zM291.8 450.0h13v13h-13zM300.2 444.2h13v13h-13zM308.6 439.3h13v13h-13zM316.9 435.7h13v13h-13zM325.3 432.7h13v13h-13zM333.6 430.3h13v13h-13zM342.0 428.3h13v13h-13zM350.4 426.7h13v13h-13zM358.7 425.2h13v13h-13zM367.1 424.0h13v13h-13zM375.4 422.8h13v13h-13zM383.8 421.8h13v13h-13zM392.2 420.8h13v13h-13zM400.5 419.9h13v13h-13zM408.9 419.0h13v13h-13zM417.2 418.1h13v13h-13zM425.6 417.1h13v13h-13zM434.0 416.3h13v13h-13zM442.3 415.5h13v13h-13zM450.7 414.8h13v13h-13zM459.0 414.3h13v13h-13zM467.4 413.9h13v13h-13zM475.8 413.7h13v13h-13zM484.1 413.6h13v13h-13zM492.5 413.5h13v13h-13zM500.8 413.4h13v13h-13zM509.2 413.3h13v13h-13zM517.6 413.2h13v13h-13zM525.9 413.2h13v13h-13zM534.3 413.1h13v13h-13zM542.6 413.1h13v13h-13zM551.0 413.0h13v13h-13zM559.4 412.9h13v13h-13zM567.7 412.9h13v13h-13zM576.1 412.8h13v13h-13zM584.4 412.8h13v13h-13zM592.8 412.7h13v13h-13zM601.2 412.6h13v13h-13zM609.5 412.5h13v13h-13zM617.9 412.4h13v13h-13zM626.2 412.2h13v13h-13zM634.6 412.1h13v13h-13zM643.0 412.0h13v13h-13zM651.3 411.8h13v13h-13zM659.7 411.7h13v13h-13zM668.0 411.5h13v13h-13zM676.4 411.4h13v13h-13zM684.8 411.3h13v13h-13zM693.1 411.2h13v13h-13zM701.5 411.2h13v13h-13zM709.8 411.1h13v13h-13zM718.2 411.1h13v13h-13zM726.6 411.1h13v13h-13zM734.9 411.1h13v13h-13zM743.3 411.1h13v13h-13zM751.6 411.1h13v13h-13zM760.0 411.1h13v13h-13zM768.4 411.1h13v13h-13zM776.7 411.1h13v13h-13zM785.1 411.1h13v13h-13zM793.4 411.1h13v13h-13zM801.8 411.1h13v13h-13zM810.2 411.1h13v13h-13zM818.5 411.1h13v13h-13zM826.9 411.1h13v13h-13zM835.2 411.1h13v13h-13zM843.6 411.1h13v13h-13zM852.0 411.1h13v13h-13zM860.3 411.1h13v13h-13zM868.7 411.1h13v13h-13zM877.0 411.1h13v13h-13zM885.4 411.1h13v13h-13zM893.8 411.1h13v13h-13zM902.1 411.1h13v13h-13zM910.5 411.1h13v13h-13zM918.8 411.1h13v13h-13zM927.2 411.1h13v13h-13zM935.6 411.1h13v13h-13zM943.9 411.1h13v13h-13zM952.3 411.1h13v13h-13zM960.6 411.1h13v13h-13zM969.0 411.1h13v13h-13zM133.0 621.7h13v13h-13zM141.4 615.0h13v13h-13zM149.7 606.4h13v13h-13zM158.1 595.1h13v13h-13zM166.4 582.4h13v13h-13zM174.8 571.7h13v13h-13zM183.2 561.8h13v13h-13zM191.5 551.7h13v13h-13zM199.9 541.6h13v13h-13zM208.2 531.4h13v13h-13zM216.6 521.4h13v13h-13zM225.0 512.0h13v13h-13zM233.3 502.3h13v13h-13zM241.7 492.2h13v13h-13zM250.0 482.5h13v13h-13zM258.4 473.3h13v13h-13zM266.8 464.3h13v13h-13zM275.1 455.4h13v13h-13zM283.5 446.2h13v13h-13zM291.8 438.2h13v13h-13zM300.2 430.2h13v13h-13zM308.6 422.9h13v13h-13zM316.9 415.3h13v13h-13zM325.3 406.5h13v13h-13zM333.6 398.3h13v13h-13zM342.0 390.3h13v13h-13zM350.4 382.5h13v13h-13zM358.7 374.7h13v13h-13zM367.1 367.1h13v13h-13zM375.4 359.6h13v13h-13zM383.8 352.3h13v13h-13zM392.2 345.5h13v13h-13zM400.5 339.1h13v13h-13zM408.9 333.1h13v13h-13zM417.2 327.9h13v13h-13zM425.6 323.7h13v13h-13zM434.0 319.9h13v13h-13zM442.3 316.4h13v13h-13zM450.7 312.7h13v13h-13zM459.0 308.5h13v13h-13zM467.4 304.0h13v13h-13zM475.8 300.9h13v13h-13zM484.1 298.6h13v13h-13zM492.5 296.7h13v13h-13zM500.8 295.0h13v13h-13zM509.2 293.5h13v13h-13zM517.6 292.2h13v13h-13zM525.9 290.8h13v13h-13zM534.3 289.5h13v13h-13zM542.6 288.1h13v13h-13zM551.0 286.8h13v13h-13zM559.4 285.6h13v13h-13zM567.7 284.4h13v13h-13zM576.1 283.3h13v13h-13zM584.4 282.5h13v13h-13zM592.8 281.7h13v13h-13zM601.2 281.2h13v13h-13zM609.5 280.7h13v13h-13zM617.9 280.3h13v13h-13zM626.2 279.9h13v13h-13zM634.6 279.5h13v13h-13zM643.0 279.1h13v13h-13zM651.3 278.8h13v13h-13zM659.7 278.5h13v13h-13zM668.0 278.2h13v13h-13zM676.4 278.0h13v13h-13zM684.8 277.8h13v13h-13zM693.1 277.6h13v13h-13zM701.5 277.4h13v13h-13zM709.8 277.3h13v13h-13zM718.2 277.2h13v13h-13zM726.6 277.1h13v13h-13zM734.9 277.0h13v13h-13zM743.3 277.0h13v13h-13zM751.6 276.9h13v13h-13zM760.0 276.9h13v13h-13zM768.4 276.8h13v13h-13zM776.7 276.8h13v13h-13zM785.1 276.8h13v13h-13zM793.4 276.9h13v13h-13zM801.8 276.9h13v13h-13zM810.2 277.0h13v13h-13zM818.5 277.1h13v13h-13zM826.9 277.3h13v13h-13zM835.2 277.4h13v13h-13zM843.6 277.5h13v13h-13zM852.0 277.7h13v13h-13zM860.3 277.8h13v13h-13zM868.7 278.0h13v13h-13zM877.0 278.2h13v13h-13zM885.4 278.4h13v13h-13zM893.8 278.5h13v13h-13zM902.1 278.7h13v13h-13zM910.5 279.0h13v13h-13zM918.8 279.2h13v13h-13zM927.2 279.5h13v13h-13zM935.6 279.8h13v13h-13zM943.9 280.1h13v13h-13zM952.3 280.4h13v13h-13zM960.6 280.7h13v13h-13zM969.0 281.0h13v13h-13z" fill="#000000"/>
<path d="M133.0 619.4h13v13h-13zM141.4 619.4h13v13h-13zM149.7 619.4h13v13h-13zM158.1 619.4h13v13h-13zM166.4 619.4h13v13h-13zM174.8 619.4h13v13h-13zM183.2 619.4h13v13h-13zM191.5 619.4h13v13h-13zM199.9 619.4h13v13h-13zM208.2 619.4h13v13h-13zM216.6 619.4h13v13h-13zM225.0 619.4h13v13h-13zM233.3 619.4h13v13h-13zM241.7 619.4h13v13h-13zM250.0 619.4h13v13h-13zM258.4 619.4h13v13h-13zM266.8 619.4h13v13h-13zM275.1 619.4h13v13h-13zM283.5 619.4h13v13h-13zM291.8 619.4h13v13h-13zM300.2 619.4h13v13h-13zM308.6 619.4h13v13h-13zM316.9 619.4h13v13h-13zM325.3 619.4h13v13h-13zM333.6 619.4h13v13h-13zM342.0 619.4h13v13h-13zM350.4 619.4h13v13h-13zM358.7 619.4h13v13h-13zM367.1 619.4h13v13h-13zM375.4 619.4h13v13h-13zM383.8 619.4h13v13h-13zM392.2 619.4h13v13h-13zM400.5 619.4h13v13h-13zM408.9 619.4h13v13h-13zM417.2 619.4h13v13h-13zM425.6 619.4h13v13h-13zM434.0 619.4h13v13h-13zM442.3 619.4h13v13h-13zM450.7 619.4h13v13h-13zM459.0 619.4h13v13h-13zM467.4 619.4h13v13h-13zM475.8 619.4h13v13h-13zM484.1 619.4h13v13h-13zM492.5 619.4h13v13h-13zM500.8 619.4h13v13h-13zM509.2 619.4h13v13h-13zM517.6 619.4h13v13h-13zM525.9 619.4h13v13h-13zM534.3 619.4h13v13h-13zM542.6 619.4h13v13h-13zM551.0 619.4h13v13h-13zM559.4 619.4h13v13h-13zM567.7 619.4h13v13h-13zM576.1 619.4h13v13h-13zM584.4 619.4h13v13h-13zM592.8 619.4h13v13h-13zM601.2 619.4h13v13h-13zM609.5 619.4h13v13h-13zM617.9 619.4h13v13h-13zM626.2 619.4h13v13h-13zM634.6 619.4h13v13h-13zM643.0 619.4h13v13h-13zM651.3 619.4h13v13h-13zM659.7 619.4h13v13h-13zM668.0 619.4h13v13h-13zM676.4 619.4h13v13h-13zM684.8 619.4h13v13h-13zM693.1 619.4h13v13h-13zM701.5 619.4h13v13h-13zM709.8 619.4h13v13h-13zM718.2 619.4h13v13h-13zM726.6 619.4h13v13h-13zM734.9 619.4h13v13h-13zM743.3 619.4h13v13h-13zM751.6 619.4h13v13h-13zM760.0 619.4h13v13h-13zM768.4 619.4h13v13h-13zM776.7 619.4h13v13h-13zM785.1 619.4h13v13h-13zM793.4 619.4h13v13h-13zM801.8 619.4h13v13h-13zM810.2 619.4h13v13h-13zM818.5 619.4h13v13h-13zM826.9 619.4h13v13h-13zM835.2 619.4h13v13h-13zM843.6 619.4h13v13h-13zM852.0 619.4h13v13h-13zM860.3 619.4h13v13h-13zM868.7 619.4h13v13h-13zM877.0 619.4h13v13h-13zM885.4 619.4h13v13h-13zM893.8 619.4h13v13h-13zM902.1 619.4h13v13h-13zM910.5 619.4h13v13h-13zM918.8 619.4h13v13h-13zM927.2 619.4h13v13h-13zM935.6 619.4h13v13h-13zM943.9 619.4h13v13h-13zM952.3 619.4h13v13h-13zM960.6 619.4h13v13h-13zM969.0 619.4h13v13h-13zM133.0 621.7h13v13h-13zM141.4 616.0h13v13h-13zM149.7 600.7h13v13h-13zM158.1 588.1h13v13h-13zM166.4 575.9h13v13h-13zM174.8 564.5h13v13h-13zM183.2 554.3h13v13h-13zM191.5 544.8h13v13h-13zM199.9 535.9h13v13h-13zM208.2 527.1h13v13h-13zM216.6 519.5h13v13h-13zM225.0 513.6h13v13h-13zM233.3 508.5h13v13h-13zM241.7 504.2h13v13h-13zM250.0 500.3h13v13h-13zM258.4 497.3h13v13h-13zM266.8 495.1h13v13h-13zM275.1 493.2h13v13h-13zM283.5 491.7h13v13h-13zM291.8 490.6h13v13h-13zM300.2 489.9h13v13h-13zM308.6 489.2h13v13h-13zM316.9 488.6h13v13h-13zM325.3 488.0h13v13h-13zM333.6 487.5h13v13h-13zM342.0 487.0h13v13h-13zM350.4 486.6h13v13h-13zM358.7 486.2h13v13h-13zM367.1 485.9h13v13h-13zM375.4 485.5h13v13h-13zM383.8 485.3h13v13h-13zM392.2 485.0h13v13h-13zM400.5 484.8h13v13h-13zM408.9 484.6h13v13h-13zM417.2 484.4h13v13h-13zM425.6 484.2h13v13h-13zM434.0 484.1h13v13h-13zM442.3 484.0h13v13h-13zM450.7 483.9h13v13h-13zM459.0 483.8h13v13h-13zM467.4 483.7h13v13h-13zM475.8 483.6h13v13h-13zM484.1 483.4h13v13h-13zM492.5 483.3h13v13h-13zM500.8 483.1h13v13h-13zM509.2 482.9h13v13h-13zM517.6 482.8h13v13h-13zM525.9 482.6h13v13h-13zM534.3 482.4h13v13h-13zM542.6 482.2h13v13h-13zM551.0 482.0h13v13h-13zM559.4 481.9h13v13h-13zM567.7 481.7h13v13h-13zM576.1 481.5h13v13h-13zM584.4 481.3h13v13h-13zM592.8 481.0h13v13h-13zM601.2 480.8h13v13h-13zM609.5 480.6h13v13h-13zM617.9 480.4h13v13h-13zM626.2 480.2h13v13h-13zM634.6 480.0h13v13h-13zM643.0 479.7h13v13h-13zM651.3 479.5h13v13h-13zM659.7 479.3h13v13h-13zM668.0 479.0h13v13h-13zM676.4 478.8h13v13h-13zM684.8 478.5h13v13h-13zM693.1 478.3h13v13h-13zM701.5 478.0h13v13h-13zM709.8 477.7h13v13h-13zM718.2 477.5h13v13h-13zM726.6 477.2h13v13h-13zM734.9 476.9h13v13h-13zM743.3 476.5h13v13h-13zM751.6 476.2h13v13h-13zM760.0 475.8h13v13h-13zM768.4 475.5h13v13h-13zM776.7 475.1h13v13h-13zM785.1 474.7h13v13h-13zM793.4 474.4h13v13h-13zM801.8 474.1h13v13h-13zM810.2 473.8h13v13h-13zM818.5 473.5h13v13h-13zM826.9 473.3h13v13h-13zM835.2 473.1h13v13h-13zM843.6 472.9h13v13h-13zM852.0 472.8h13v13h-13zM860.3 472.7h13v13h-13zM868.7 472.6h13v13h-13zM877.0 472.5h13v13h-13zM885.4 472.3h13v13h-13zM893.8 472.2h13v13h-13zM902.1 472.2h13v13h-13zM910.5 472.1h13v13h-13zM918.8 472.0h13v13h-13zM927.2 471.9h13v13h-13zM935.6 471.9h13v13h-13zM943.9 471.8h13v13h-13zM952.3 471.8h13v13h-13zM960.6 471.8h13v13h-13zM969.0 471.8h13v13h-13zM133.0 621.7h13v13h-13zM141.4 616.0h13v13h-13zM149.7 600.7h13v13h-13zM158.1 588.1h13v13h-13zM166.4 579.5h13v13h-13zM174.8 568.8h13v13h-13zM183.2 556.0h13v13h-13zM191.5 543.6h13v13h-13zM199.9 531.4h13v13h-13zM208.2 520.2h13v13h-13zM216.6 508.5h13v13h-13zM225.0 496.0h13v13h-13zM233.3 483.4h13v13h-13zM241.7 471.1h13v13h-13zM250.0 459.6h13v13h-13zM258.4 449.0h13v13h-13zM266.8 439.3h13v13h-13zM275.1 431.0h13v13h-13zM283.5 422.2h13v13h-13zM291.8 413.8h13v13h-13zM300.2 406.5h13v13h-13zM308.6 399.3h13v13h-13zM316.9 391.4h13v13h-13zM325.3 383.3h13v13h-13zM333.6 375.3h13v13h-13zM342.0 367.9h13v13h-13zM350.4 362.1h13v13h-13zM358.7 356.4h13v13h-13zM367.1 350.6h13v13h-13zM375.4 346.6h13v13h-13zM383.8 342.8h13v13h-13zM392.2 338.9h13v13h-13zM400.5 336.4h13v13h-13zM408.9 334.3h13v13h-13zM417.2 332.6h13v13h-13zM425.6 331.0h13v13h-13zM434.0 329.6h13v13h-13zM442.3 328.3h13v13h-13zM450.7 326.9h13v13h-13zM459.0 324.8h13v13h-13zM467.4 322.2h13v13h-13zM475.8 320.8h13v13h-13zM484.1 320.1h13v13h-13zM492.5 319.6h13v13h-13zM500.8 319.2h13v13h-13zM509.2 318.8h13v13h-13zM517.6 318.5h13v13h-13zM525.9 318.1h13v13h-13zM534.3 317.7h13v13h-13zM542.6 317.2h13v13h-13zM551.0 316.7h13v13h-13zM559.4 316.1h13v13h-13zM567.7 315.7h13v13h-13zM576.1 315.3h13v13h-13zM584.4 314.9h13v13h-13zM592.8 314.7h13v13h-13zM601.2 314.6h13v13h-13zM609.5 314.5h13v13h-13zM617.9 314.4h13v13h-13zM626.2 314.3h13v13h-13zM634.6 314.2h13v13h-13zM643.0 314.1h13v13h-13zM651.3 314.1h13v13h-13zM659.7 314.0h13v13h-13zM668.0 314.0h13v13h-13zM676.4 313.9h13v13h-13zM684.8 313.9h13v13h-13zM693.1 313.9h13v13h-13zM701.5 313.8h13v13h-13zM709.8 313.8h13v13h-13zM718.2 313.8h13v13h-13zM726.6 313.8h13v13h-13zM734.9 313.8h13v13h-13zM743.3 313.9h13v13h-13zM751.6 313.9h13v13h-13zM760.0 313.9h13v13h-13zM768.4 314.0h13v13h-13zM776.7 314.0h13v13h-13zM785.1 314.1h13v13h-13zM793.4 314.1h13v13h-13zM801.8 314.2h13v13h-13zM810.2 314.3h13v13h-13zM818.5 314.4h13v13h-13zM826.9 314.5h13v13h-13zM835.2 314.6h13v13h-13zM843.6 314.7h13v13h-13zM852.0 314.8h13v13h-13zM860.3 314.9h13v13h-13zM868.7 315.1h13v13h-13zM877.0 315.2h13v13h-13zM885.4 315.4h13v13h-13zM893.8 315.5h13v13h-13zM902.1 315.7h13v13h-13zM910.5 315.9h13v13h-13zM918.8 316.0h13v13h-13zM927.2 316.2h13v13h-13zM935.6 316.4h13v13h-13zM943.9 316.6h13v13h-13zM952.3 316.8h13v13h-13zM960.6 317.0h13v13h-13zM969.0 317.3h13v13h-13zM133.0 621.7h13v13h-13zM141.4 616.0h13v13h-13zM149.7 600.7h13v13h-13zM158.1 588.1h13v13h-13zM166.4 578.2h13v13h-13zM174.8 566.8h13v13h-13zM183.2 555.7h13v13h-13zM191.5 543.1h13v13h-13zM199.9 531.3h13v13h-13zM208.2 519.6h13v13h-13zM216.6 507.2h13v13h-13zM225.0 494.3h13v13h-13zM233.3 481.3h13v13h-13zM241.7 468.6h13v13h-13zM250.0 456.5h13v13h-13zM258.4 445.4h13v13h-13zM266.8 434.8h13v13h-13zM275.1 425.2h13v13h-13zM283.5 416.5h13v13h-13zM291.8 407.3h13v13h-13zM300.2 398.5h13v13h-13zM308.6 390.9h13v13h-13zM316.9 382.5h13v13h-13zM325.3 374.5h13v13h-13zM333.6 366.3h13v13h-13zM342.0 358.3h13v13h-13zM350.4 350.8h13v13h-13zM358.7 344.3h13v13h-13zM367.1 337.5h13v13h-13zM375.4 330.4h13v13h-13zM383.8 324.0h13v13h-13zM392.2 317.8h13v13h-13zM400.5 312.1h13v13h-13zM408.9 307.0h13v13h-13zM417.2 302.5h13v13h-13zM425.6 298.4h13v13h-13zM434.0 294.6h13v13h-13zM442.3 291.0h13v13h-13zM450.7 287.4h13v13h-13zM459.0 283.9h13v13h-13zM467.4 280.6h13v13h-13zM475.8 277.4h13v13h-13zM484.1 273.9h13v13h-13zM492.5 270.5h13v13h-13zM500.8 267.0h13v13h-13zM509.2 263.7h13v13h-13zM517.6 260.6h13v13h-13zM525.9 257.9h13v13h-13zM534.3 255.4h13v13h-13zM542.6 253.0h13v13h-13zM551.0 250.6h13v13h-13zM559.4 248.4h13v13h-13zM567.7 246.3h13v13h-13zM576.1 244.4h13v13h-13zM584.4 242.7h13v13h-13zM592.8 241.3h13v13h-13zM601.2 240.1h13v13h-13zM609.5 239.0h13v13h-13zM617.9 238.0h13v13h-13zM626.2 237.0h13v13h-13zM634.6 236.1h13v13h-13zM643.0 235.2h13v13h-13zM651.3 234.4h13v13h-13zM659.7 233.6h13v13h-13zM668.0 232.9h13v13h-13zM676.4 232.2h13v13h-13zM684.8 231.6h13v13h-13zM693.1 231.1h13v13h-13zM701.5 230.6h13v13h-13zM709.8 230.2h13v13h-13zM718.2 229.9h13v13h-13zM726.6 229.6h13v13h-13zM734.9 229.3h13v13h-13zM743.3 229.0h13v13h-13zM751.6 228.7h13v13h-13zM760.0 228.5h13v13h-13zM768.4 228.4h13v13h-13zM776.7 228.4h13v13h-13zM785.1 228.4h13v13h-13zM793.4 228.4h13v13h-13zM801.8 228.4h13v13h-13zM810.2 228.4h13v13h-13zM818.5 228.4h13v13h-13zM826.9 228.4h13v13h-13zM835.2 228.4h13v13h-13zM843.6 228.4h13v13h-13zM852.0 228.4h13v13h-13zM860.3 228.4h13v13h-13zM868.7 228.4h13v13h-13zM877.0 228.4h13v13h-13zM885.4 228.4h13v13h-13zM893.8 228.4h13v13h-13zM902.1 228.4h13v13h-13zM910.5 228.4h13v13h-13zM918.8 228.4h13v13h-13zM927.2 228.4h13v13h-13zM935.6 228.4h13v13h-13zM943.9 228.4h13v13h-13zM952.3 228.4h13v13h-13zM960.6 228.4h13v13h-13zM969.0 228.4h13v13h-13z" fill="#ff0000"/>
<path d="M133.0 619.4h13v13h-13zM141.4 619.4h13v13h-13zM149.7 619.4h13v13h-13zM158.1 619.4h13v13h-13zM166.4 619.4h13v13h-13zM174.8 619.4h13v13h-13zM183.2 619.4h13v13h-13zM191.5 619.4h13v13h-13zM199.9 619.4h13v13h-13zM208.2 619.4h13v13h-13zM216.6 619.4h13v13h-13zM225.0 619.4h13v13h-13zM233.3 619.4h13v13h-13zM241.7 619.4h13v13h-13zM250.0 619.4h13v13h-13zM258.4 619.4h13v13h-13zM266.8 619.4h13v13h-13zM275.1 619.4h13v13h-13zM283.5 619.4h13v13h-13zM291.8 619.4h13v13h-13zM300.2 619.4h13v13h-13zM308.6 619.4h13v13h-13zM316.9 619.4h13v13h-13zM325.3 619.4h13v13h-13zM333.6 619.4h13v13h-13zM342.0 619.4h13v13h-13zM350.4 619.4h13v13h-13zM358.7 619.4h13v13h-13zM367.1 619.4h13v13h-13zM375.4 619.4h13v13h-13zM383.8 619.4h13v13h-13zM392.2 619.4h13v13h-13zM400.5 619.4h13v13h-13zM408.9 619.4h13v13h-13zM417.2 619.4h13v13h-13zM425.6 619.4h13v13h-13zM434.0 619.4h13v13h-13zM442.3 619.4h13v13h-13zM450.7 619.4h13v13h-13zM459.0 619.4h13v13h-13zM467.4 619.4h13v13h-13zM475.8 619.4h13v13h-13zM484.1 619.4h13v13h-13zM492.5 619.4h13v13h-13zM500.8 619.4h13v13h-13zM509.2 619.4h13v13h-13zM517.6 619.4h13v13h-13zM525.9 619.4h13v13h-13zM534.3 619.4h13v13h-13zM542.6 619.4h13v13h-13zM551.0 619.4h13v13h-13zM559.4 619.4h13v13h-13zM567.7 619.4h13v13h-13zM576.1 619.4h13v13h-13zM584.4 619.4h13v13h-13zM592.8 619.4h13v13h-13zM601.2 619.4h13v13h-13zM609.5 619.4h13v13h-13zM617.9 619.4h13v13h-13zM626.2 619.4h13v13h-13zM634.6 619.4h13v13h-13zM643.0 619.4h13v13h-13zM651.3 619.4h13v13h-13zM659.7 619.4h13v13h-13zM668.0 619.4h13v13h-13zM676.4 619.4h13v13h-13zM684.8 619.4h13v13h-13zM693.1 619.4h13v13h-13zM701.5 619.4h13v13h-13zM709.8 619.4h13v13h-13zM718.2 619.4h13v13h-13zM726.6 619.4h13v13h-13zM734.9 619.4h13v13h-13zM743.3 619.4h13v13h-13zM751.6 619.4h13v13h-13zM760.0 619.4h13v13h-13zM768.4 619.4h13v13h-13zM776.7 619.4h13v13h-13zM785.1 619.4h13v13h-13zM793.4 619.4h13v13h-13zM801.8 619.4h13v13h-13zM810.2 619.4h13v13h-13zM818.5 619.4h13v13h-13zM826.9 619.4h13v13h-13zM835.2 619.4h13v13h-13zM843.6 619.4h13v13h-13zM852.0 619.4h13v13h-13zM860.3 619.4h13v13h-13zM868.7 619.4h13v13h-13zM877.0 619.4h13v13h-13zM885.4 619.4h13v13h-13zM893.8 619.4h13v13h-13zM902.1 619.4h13v13h-13zM910.5 619.4h13v13h-13zM918.8 619.4h13v13h-13zM927.2 619.4h13v13h-13zM935.6 619.4h13v13h-13zM943.9 619.4h13v13h-13zM952.3 619.4h13v13h-13zM960.6 619.4h13v13h-13zM969.0 619.4h13v13h-13zM133.0 621.7h13v13h-13zM141.4 606.4h13v13h-13zM149.7 592.1h13v13h-13zM158.1 578.4h13v13h-13zM166.4 565.2h13v13h-13zM174.8 553.0h13v13h-13zM183.2 539.7h13v13h-13zM191.5 525.6h13v13h-13zM199.9 510.3h13v13h-13zM208.2 493.9h13v13h-13zM216.6 483.6h13v13h-13zM225.0 478.3h13v13h-13zM233.3 474.4h13v13h-13zM241.7 471.2h13v13h-13zM250.0 468.3h13v13h-13zM258.4 465.3h13v13h-13zM266.8 462.3h13v13h-13zM275.1 459.7h13v13h-13zM283.5 457.7h13v13h-13zM291.8 456.2h13v13h-13zM300.2 455.0h13v13h-13zM308.6 453.9h13v13h-13zM316.9 452.8h13v13h-13zM325.3 451.9h13v13h-13zM333.6 451.2h13v13h-13zM342.0 450.6h13v13h-13zM350.4 450.1h13v13h-13zM358.7 449.6h13v13h-13zM367.1 449.1h13v13h-13zM375.4 448.7h13v13h-13zM383.8 448.3h13v13h-13zM392.2 448.0h13v13h-13zM400.5 447.7h13v13h-13zM408.9 447.5h13v13h-13zM417.2 447.4h13v13h-13zM425.6 447.3h13v13h-13zM434.0 447.2h13v13h-13zM442.3 447.2h13v13h-13zM450.7 447.1h13v13h-13zM459.0 447.1h13v13h-13zM467.4 447.0h13v13h-13zM475.8 446.9h13v13h-13zM484.1 446.8h13v13h-13zM492.5 446.6h13v13h-13zM500.8 446.4h13v13h-13zM509.2 446.2h13v13h-13zM517.6 446.0h13v13h-13zM525.9 445.7h13v13h-13zM534.3 445.5h13v13h-13zM542.6 445.3h13v13h-13zM551.0 445.1h13v13h-13zM559.4 444.9h13v13h-13zM567.7 444.7h13v13h-13zM576.1 444.5h13v13h-13zM584.4 444.3h13v13h-13zM592.8 444.3h13v13h-13zM601.2 444.7h13v13h-13zM609.5 447.4h13v13h-13zM617.9 444.3h13v13h-13zM626.2 443.5h13v13h-13zM634.6 442.9h13v13h-13zM643.0 442.3h13v13h-13zM651.3 441.7h13v13h-13zM659.7 441.1h13v13h-13zM668.0 440.6h13v13h-13zM676.4 440.1h13v13h-13zM684.8 439.6h13v13h-13zM693.1 439.0h13v13h-13zM701.5 438.5h13v13h-13zM709.8 438.0h13v13h-13zM718.2 437.4h13v13h-13zM726.6 436.8h13v13h-13zM734.9 436.1h13v13h-13zM743.3 435.5h13v13h-13zM751.6 434.8h13v13h-13zM760.0 434.1h13v13h-13zM768.4 433.5h13v13h-13zM776.7 432.8h13v13h-13zM785.1 432.1h13v13h-13zM793.4 431.4h13v13h-13zM801.8 430.8h13v13h-13zM810.2 430.2h13v13h-13zM818.5 429.5h13v13h-13zM826.9 429.0h13v13h-13zM835.2 428.4h13v13h-13zM843.6 427.9h13v13h-13zM852.0 427.4h13v13h-13zM860.3 426.9h13v13h-13zM868.7 426.5h13v13h-13zM877.0 426.0h13v13h-13zM885.4 425.5h13v13h-13zM893.8 425.1h13v13h-13zM902.1 424.7h13v13h-13zM910.5 424.3h13v13h-13zM918.8 423.9h13v13h-13zM927.2 423.5h13v13h-13zM935.6 423.1h13v13h-13zM943.9 422.8h13v13h-13zM952.3 422.4h13v13h-13zM960.6 422.1h13v13h-13zM969.0 421.8h13v13h-13zM133.0 621.7h13v13h-13zM141.4 605.7h13v13h-13zM149.7 590.5h13v13h-13zM158.1 575.8h13v13h-13zM166.4 561.4h13v13h-13zM174.8 547.3h13v13h-13zM183.2 533.2h13v13h-13zM191.5 518.7h13v13h-13zM199.9 503.4h13v13h-13zM208.2 487.4h13v13h-13zM216.6 471.0h13v13h-13zM225.0 456.9h13v13h-13zM233.3 443.2h13v13h-13zM241.7 429.8h13v13h-13zM250.0 418.0h13v13h-13zM258.4 406.2h13v13h-13zM266.8 395.1h13v13h-13zM275.1 384.4h13v13h-13zM283.5 374.0h13v13h-13zM291.8 364.2h13v13h-13zM300.2 355.2h13v13h-13zM308.6 346.8h13v13h-13zM316.9 338.6h13v13h-13zM325.3 330.5h13v13h-13zM333.6 322.6h13v13h-13zM342.0 315.3h13v13h-13zM350.4 308.6h13v13h-13zM358.7 302.1h13v13h-13zM367.1 296.2h13v13h-13zM375.4 291.4h13v13h-13zM383.8 287.6h13v13h-13zM392.2 284.5h13v13h-13zM400.5 281.9h13v13h-13zM408.9 279.5h13v13h-13zM417.2 277.4h13v13h-13zM425.6 275.5h13v13h-13zM434.0 273.7h13v13h-13zM442.3 271.9h13v13h-13zM450.7 270.1h13v13h-13zM459.0 268.4h13v13h-13zM467.4 266.8h13v13h-13zM475.8 265.4h13v13h-13zM484.1 264.0h13v13h-13zM492.5 262.7h13v13h-13zM500.8 261.4h13v13h-13zM509.2 260.3h13v13h-13zM517.6 259.4h13v13h-13zM525.9 258.6h13v13h-13zM534.3 258.1h13v13h-13zM542.6 257.5h13v13h-13zM551.0 257.0h13v13h-13zM559.4 256.6h13v13h-13zM567.7 256.2h13v13h-13zM576.1 255.8h13v13h-13zM584.4 255.6h13v13h-13zM592.8 255.5h13v13h-13zM601.2 255.5h13v13h-13zM609.5 255.5h13v13h-13zM617.9 255.5h13v13h-13zM626.2 255.5h13v13h-13zM634.6 255.5h13v13h-13zM643.0 255.5h13v13h-13zM651.3 255.5h13v13h-13zM659.7 255.5h13v13h-13zM668.0 255.5h13v13h-13zM676.4 255.5h13v13h-13zM684.8 255.5h13v13h-13zM693.1 255.5h13v13h-13zM701.5 255.5h13v13h-13zM709.8 255.5h13v13h-13zM718.2 255.5h13v13h-13zM726.6 255.5h13v13h-13zM734.9 255.5h13v13h-13zM743.3 255.5h13v13h-13zM751.6 255.5h13v13h-13zM760.0 255.5h13v13h-13zM768.4 255.5h13v13h-13zM776.7 255.5h13v13h-13zM785.1 255.6h13v13h-13zM793.4 255.6h13v13h-13zM801.8 255.6h13v13h-13zM810.2 255.6h13v13h-13zM818.5 255.7h13v13h-13zM826.9 255.7h13v13h-13zM835.2 255.8h13v13h-13zM843.6 255.8h13v13h-13zM852.0 255.8h13v13h-13zM860.3 255.9h13v13h-13zM868.7 255.9h13v13h-13zM877.0 256.0h13v13h-13zM885.4 256.0h13v13h-13zM893.8 256.1h13v13h-13zM902.1 256.1h13v13h-13zM910.5 256.2h13v13h-13zM918.8 256.2h13v13h-13zM927.2 256.3h13v13h-13zM935.6 256.4h13v13h-13zM943.9 256.4h13v13h-13zM952.3 256.5h13v13h-13zM960.6 256.5h13v13h-13zM969.0 256.6h13v13h-13zM133.0 621.7h13v13h-13zM141.4 604.5h13v13h-13zM149.7 588.2h13v13h-13zM158.1 572.4h13v13h-13zM166.4 556.8h13v13h-13zM174.8 541.3h13v13h-13zM183.2 526.1h13v13h-13zM191.5 511.4h13v13h-13zM199.9 498.0h13v13h-13zM208.2 481.7h13v13h-13zM216.6 467.2h13v13h-13zM225.0 453.8h13v13h-13zM233.3 440.5h13v13h-13zM241.7 427.1h13v13h-13zM250.0 415.7h13v13h-13zM258.4 403.5h13v13h-13zM266.8 392.3h13v13h-13zM275.1 381.4h13v13h-13zM283.5 369.8h13v13h-13zM291.8 358.5h13v13h-13zM300.2 348.2h13v13h-13zM308.6 338.4h13v13h-13zM316.9 328.9h13v13h-13zM325.3 319.6h13v13h-13zM333.6 310.5h13v13h-13zM342.0 301.9h13v13h-13zM350.4 293.5h13v13h-13zM358.7 285.4h13v13h-13zM367.1 277.6h13v13h-13zM375.4 270.1h13v13h-13zM383.8 263.1h13v13h-13zM392.2 256.5h13v13h-13zM400.5 250.4h13v13h-13zM408.9 244.6h13v13h-13zM417.2 239.3h13v13h-13zM425.6 234.3h13v13h-13zM434.0 229.6h13v13h-13zM442.3 225.0h13v13h-13zM450.7 220.6h13v13h-13zM459.0 216.3h13v13h-13zM467.4 212.0h13v13h-13zM475.8 207.7h13v13h-13zM484.1 203.1h13v13h-13zM492.5 198.6h13v13h-13zM500.8 194.4h13v13h-13zM509.2 190.6h13v13h-13zM517.6 187.2h13v13h-13zM525.9 184.0h13v13h-13zM534.3 181.0h13v13h-13zM542.6 178.3h13v13h-13zM551.0 176.0h13v13h-13zM559.4 174.0h13v13h-13zM567.7 172.3h13v13h-13zM576.1 170.8h13v13h-13zM584.4 169.4h13v13h-13zM592.8 168.1h13v13h-13zM601.2 166.9h13v13h-13zM609.5 165.8h13v13h-13zM617.9 164.8h13v13h-13zM626.2 163.8h13v13h-13zM634.6 162.9h13v13h-13zM643.0 162.0h13v13h-13zM651.3 161.1h13v13h-13zM659.7 160.2h13v13h-13zM668.0 159.3h13v13h-13zM676.4 158.3h13v13h-13zM684.8 157.4h13v13h-13zM693.1 156.5h13v13h-13zM701.5 155.7h13v13h-13zM709.8 155.0h13v13h-13zM718.2 154.4h13v13h-13zM726.6 153.8h13v13h-13zM734.9 153.3h13v13h-13zM743.3 152.8h13v13h-13zM751.6 152.4h13v13h-13zM760.0 152.0h13v13h-13zM768.4 151.8h13v13h-13zM776.7 151.7h13v13h-13zM785.1 151.7h13v13h-13zM793.4 151.7h13v13h-13zM801.8 151.7h13v13h-13zM810.2 151.7h13v13h-13zM818.5 151.7h13v13h-13zM826.9 151.7h13v13h-13zM835.2 151.7h13v13h-13zM843.6 151.7h13v13h-13zM852.0 151.7h13v13h-13zM860.3 151.7h13v13h-13zM868.7 151.7h13v13h-13zM877.0 151.7h13v13h-13zM885.4 151.7h13v13h-13zM893.8 151.7h13v13h-13zM902.1 151.7h13v13h-13zM910.5 151.7h13v13h-13zM918.8 151.7h13v13h-13zM927.2 151.7h13v13h-13zM935.6 151.7h13v13h-13zM943.9 151.7h13v13h-13zM952.3 151.7h13v13h-13zM960.6 151.7h13v13h-13zM969.0 151.7h13v13h-13z" fill="#0033ff"/>
</g>
<g font-size="34" font-weight="bold" fill="#000"><text x="125.6" y="636.7" text-anchor="end">0</text><text x="125.6" y="560.4" text-anchor="end">200</text><text x="125.6" y="484.1" text-anchor="end">400</text><text x="125.6" y="407.8" text-anchor="end">600</text><text x="125.6" y="331.5" text-anchor="end">800</text><text x="125.6" y="255.2" text-anchor="end">1000</text><text x="125.6" y="178.9" text-anchor="end">1200</text><text x="125.6" y="102.6" text-anchor="end">1400</text><text x="125.6" y="26.3" text-anchor="end">1600</text><text x="139.6" y="667.6" text-anchor="middle">0</text><text x="306.8" y="667.6" text-anchor="middle">2</text><text x="474.0" y="667.6" text-anchor="middle">4</text><text x="641.2" y="667.6" text-anchor="middle">6</text><text x="808.4" y="667.6" text-anchor="middle">8</text><text x="975.6" y="667.6" text-anchor="middle">10</text></g>
<g font-weight="bold" fill="#000">
<text x="511.5" y="722" font-size="29.5">V</text>
<text x="531.8" y="733.8" font-size="17.5">DS</text>
<text x="564" y="722" font-size="29.5">(V)</text>
<g transform="translate(25.4,434.8) rotate(-90)">
<text x="0" y="0" font-size="30.5">J</text>
<text x="18.4" y="12" font-size="17.5">DS</text>
<text x="50.4" y="0" font-size="30.5">(mA/mm)</text>
</g>
</g>
<g fill="#000">
<text x="156.5" y="64.2" font-size="32">V</text>
<text x="178.8" y="78.9" font-size="28">GS</text>
<text x="217.9" y="64.3" font-size="33.6">=-4V to 2V,step=2V</text>
</g>
<rect x="518.5" y="25.6" width="426.7" height="102.2" fill="#fff" stroke="#555" stroke-width="1.5"/>
<g fill="none" stroke-width="1.3">
<rect x="550.8" y="38.3" width="11.8" height="11.8" stroke="#000"/>
<rect x="550.8" y="71.7" width="11.8" height="11.8" stroke="#ff0000"/>
<rect x="550.8" y="104.6" width="11.8" height="11.8" stroke="#0033ff"/>
</g>
<rect x="751.3" y="37.2" width="13" height="13" fill="#000"/>
<rect x="751.3" y="71" width="13" height="13" fill="#ff0000"/>
<rect x="751.3" y="104.1" width="13" height="13" fill="#0033ff"/>
<g font-size="27.6" fill="#000">
<text x="595" y="53.1">Si 175nm</text>
<text x="595" y="86.7">Si 150nm</text>
<text x="595" y="120.3">Si 125nm</text>
<text x="795.5" y="53.1">SiC 175nm</text>
<text x="795.5" y="86.7">SiC 150nm</text>
<text x="795.5" y="120.3">SiC 125nm</text>
</g>
</svg>
</body></html>
